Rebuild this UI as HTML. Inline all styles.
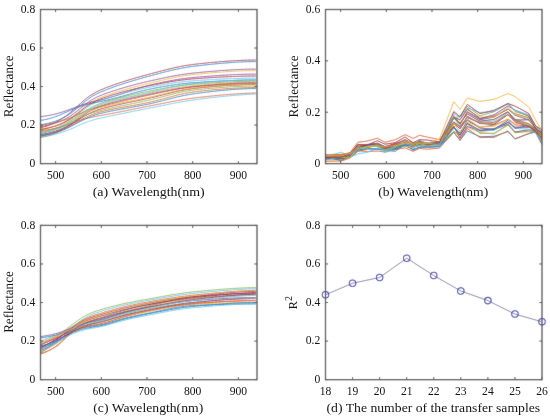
<!DOCTYPE html>
<html><head><meta charset="utf-8"><style>
html,body{margin:0;padding:0;background:#fff;}
svg{display:block;}
.l{fill:none;stroke-width:0.75;stroke-linejoin:round;}
.lb{stroke-width:0.85;}
.t{font-family:'Liberation Serif', serif;font-size:11.6px;fill:#151515;}
.xl{font-family:'Liberation Serif', serif;font-size:13px;fill:#151515;}
.yl{font-size:13.5px;text-rendering:geometricPrecision;}
</style></head><body>
<svg width="550" height="420" viewBox="0 0 550 420">
<defs><filter id="bl" x="0" y="0" width="100%" height="100%" filterUnits="userSpaceOnUse"><feConvolveMatrix order="3" kernelMatrix="0.0250 0.0500 0.0250 0.0500 0.7000 0.0500 0.0250 0.0500 0.0250" divisor="1" edgeMode="duplicate"/></filter></defs>
<rect width="550" height="420" fill="#fff"/>
<g filter="url(#bl)">
<rect width="550" height="420" fill="#fff"/>
<polyline class="l" points="40.5,127.7 41.9,127.4 43.2,127.0 44.6,126.6 46.0,126.2 47.4,125.8 48.7,125.3 50.1,124.8 51.5,124.2 52.8,123.7 54.2,123.0 55.6,122.4 57.0,121.7 58.3,120.9 59.7,120.1 61.1,119.3 62.4,118.4 63.8,117.5 65.2,116.6 66.6,115.5 67.9,114.5 69.3,113.4 70.7,112.3 72.0,111.1 73.4,109.9 74.8,108.7 76.1,107.4 77.5,106.2 78.9,104.9 80.3,103.6 81.6,102.4 83.0,101.2 84.4,100.0 85.7,98.9 87.1,97.8 88.5,96.8 89.9,95.8 91.2,94.9 92.6,94.1 94.0,93.3 95.3,92.5 96.7,91.8 98.1,91.1 99.5,90.5 100.8,89.9 102.2,89.3 103.6,88.7 104.9,88.1 106.3,87.6 107.7,87.1 109.1,86.6 110.4,86.1 111.8,85.6 113.2,85.1 114.5,84.6 115.9,84.1 117.3,83.7 118.7,83.2 120.0,82.7 121.4,82.3 122.8,81.9 124.1,81.4 125.5,81.0 126.9,80.6 128.3,80.1 129.6,79.7 131.0,79.3 132.4,78.9 133.7,78.5 135.1,78.1 136.5,77.7 137.8,77.3 139.2,76.9 140.6,76.5 142.0,76.2 143.3,75.8 144.7,75.4 146.1,75.0 147.4,74.7 148.8,74.3 150.2,73.9 151.6,73.5 152.9,73.2 154.3,72.8 155.7,72.5 157.0,72.1 158.4,71.7 159.8,71.4 161.2,71.0 162.5,70.7 163.9,70.3 165.3,69.9 166.6,69.6 168.0,69.3 169.4,68.9 170.8,68.6 172.1,68.3 173.5,68.0 174.9,67.6 176.2,67.3 177.6,67.1 179.0,66.8 180.4,66.5 181.7,66.2 183.1,66.0 184.5,65.7 185.8,65.5 187.2,65.3 188.6,65.1 190.0,64.9 191.3,64.7 192.7,64.5 194.1,64.3 195.4,64.2 196.8,64.0 198.2,63.8 199.6,63.7 200.9,63.5 202.3,63.4 203.7,63.3 205.0,63.1 206.4,63.0 207.8,62.8 209.1,62.7 210.5,62.6 211.9,62.4 213.3,62.3 214.6,62.2 216.0,62.1 217.4,62.0 218.7,61.8 220.1,61.7 221.5,61.6 222.9,61.5 224.2,61.4 225.6,61.3 227.0,61.2 228.3,61.1 229.7,61.0 231.1,60.9 232.5,60.8 233.8,60.8 235.2,60.7 236.6,60.6 237.9,60.5 239.3,60.5 240.7,60.4 242.1,60.3 243.4,60.3 244.8,60.2 246.2,60.2 247.5,60.2 248.9,60.1 250.3,60.1 251.7,60.1 253.0,60.0 254.4,60.0 255.8,60.0" stroke="#A2142F"/>
<polyline class="l" points="40.5,124.9 41.9,124.7 43.2,124.4 44.6,124.1 46.0,123.8 47.4,123.5 48.7,123.2 50.1,122.8 51.5,122.4 52.8,122.0 54.2,121.6 55.6,121.1 57.0,120.6 58.3,120.1 59.7,119.5 61.1,118.9 62.4,118.2 63.8,117.5 65.2,116.8 66.6,116.0 67.9,115.2 69.3,114.3 70.7,113.4 72.0,112.4 73.4,111.3 74.8,110.2 76.1,109.1 77.5,107.9 78.9,106.8 80.3,105.6 81.6,104.4 83.0,103.2 84.4,102.1 85.7,101.0 87.1,99.9 88.5,98.9 89.9,97.9 91.2,97.0 92.6,96.1 94.0,95.3 95.3,94.6 96.7,93.9 98.1,93.2 99.5,92.6 100.8,91.9 102.2,91.4 103.6,90.8 104.9,90.3 106.3,89.7 107.7,89.2 109.1,88.7 110.4,88.2 111.8,87.7 113.2,87.2 114.5,86.7 115.9,86.2 117.3,85.7 118.7,85.3 120.0,84.8 121.4,84.4 122.8,83.9 124.1,83.5 125.5,83.0 126.9,82.6 128.3,82.2 129.6,81.7 131.0,81.3 132.4,80.9 133.7,80.5 135.1,80.1 136.5,79.7 137.8,79.3 139.2,78.9 140.6,78.5 142.0,78.1 143.3,77.7 144.7,77.3 146.1,77.0 147.4,76.6 148.8,76.2 150.2,75.9 151.6,75.5 152.9,75.1 154.3,74.7 155.7,74.4 157.0,74.0 158.4,73.7 159.8,73.3 161.2,72.9 162.5,72.6 163.9,72.2 165.3,71.9 166.6,71.5 168.0,71.2 169.4,70.9 170.8,70.5 172.1,70.2 173.5,69.9 174.9,69.6 176.2,69.3 177.6,69.0 179.0,68.7 180.4,68.5 181.7,68.2 183.1,67.9 184.5,67.7 185.8,67.5 187.2,67.2 188.6,67.0 190.0,66.8 191.3,66.6 192.7,66.4 194.1,66.2 195.4,66.1 196.8,65.9 198.2,65.7 199.6,65.6 200.9,65.4 202.3,65.3 203.7,65.1 205.0,64.9 206.4,64.8 207.8,64.7 209.1,64.5 210.5,64.4 211.9,64.2 213.3,64.1 214.6,64.0 216.0,63.8 217.4,63.7 218.7,63.6 220.1,63.4 221.5,63.3 222.9,63.2 224.2,63.1 225.6,63.0 227.0,62.9 228.3,62.8 229.7,62.7 231.1,62.6 232.5,62.5 233.8,62.4 235.2,62.3 236.6,62.2 237.9,62.1 239.3,62.1 240.7,62.0 242.1,61.9 243.4,61.9 244.8,61.8 246.2,61.8 247.5,61.7 248.9,61.7 250.3,61.7 251.7,61.6 253.0,61.6 254.4,61.6 255.8,61.6" stroke="#0072BD"/>
<polyline class="l" points="40.5,126.7 41.9,126.4 43.2,126.2 44.6,125.9 46.0,125.6 47.4,125.3 48.7,125.0 50.1,124.7 51.5,124.3 52.8,123.9 54.2,123.5 55.6,123.1 57.0,122.6 58.3,122.1 59.7,121.6 61.1,121.0 62.4,120.4 63.8,119.8 65.2,119.1 66.6,118.3 67.9,117.5 69.3,116.7 70.7,115.8 72.0,114.9 73.4,113.9 74.8,112.8 76.1,111.8 77.5,110.7 78.9,109.5 80.3,108.4 81.6,107.3 83.0,106.2 84.4,105.1 85.7,104.0 87.1,103.0 88.5,102.0 89.9,101.1 91.2,100.2 92.6,99.4 94.0,98.6 95.3,97.9 96.7,97.2 98.1,96.6 99.5,96.0 100.8,95.4 102.2,94.9 103.6,94.3 104.9,93.8 106.3,93.3 107.7,92.8 109.1,92.4 110.4,91.9 111.8,91.4 113.2,91.0 114.5,90.5 115.9,90.1 117.3,89.7 118.7,89.2 120.0,88.8 121.4,88.4 122.8,88.0 124.1,87.6 125.5,87.2 126.9,86.8 128.3,86.4 129.6,86.0 131.0,85.7 132.4,85.3 133.7,84.9 135.1,84.6 136.5,84.2 137.8,83.9 139.2,83.5 140.6,83.2 142.0,82.8 143.3,82.5 144.7,82.2 146.1,81.9 147.4,81.5 148.8,81.2 150.2,80.9 151.6,80.6 152.9,80.3 154.3,80.0 155.7,79.7 157.0,79.4 158.4,79.1 159.8,78.8 161.2,78.5 162.5,78.2 163.9,77.9 165.3,77.6 166.6,77.3 168.0,77.0 169.4,76.8 170.8,76.5 172.1,76.2 173.5,76.0 174.9,75.7 176.2,75.5 177.6,75.3 179.0,75.0 180.4,74.8 181.7,74.6 183.1,74.4 184.5,74.2 185.8,74.0 187.2,73.8 188.6,73.6 190.0,73.5 191.3,73.3 192.7,73.1 194.1,73.0 195.4,72.8 196.8,72.7 198.2,72.6 199.6,72.4 200.9,72.3 202.3,72.2 203.7,72.0 205.0,71.9 206.4,71.8 207.8,71.7 209.1,71.5 210.5,71.4 211.9,71.3 213.3,71.2 214.6,71.1 216.0,71.0 217.4,70.9 218.7,70.8 220.1,70.6 221.5,70.5 222.9,70.4 224.2,70.3 225.6,70.3 227.0,70.2 228.3,70.1 229.7,70.0 231.1,69.9 232.5,69.8 233.8,69.8 235.2,69.7 236.6,69.6 237.9,69.5 239.3,69.5 240.7,69.4 242.1,69.4 243.4,69.3 244.8,69.3 246.2,69.2 247.5,69.2 248.9,69.2 250.3,69.1 251.7,69.1 253.0,69.1 254.4,69.1 255.8,69.1" stroke="#7E2F8E"/>
<polyline class="l" points="40.5,129.9 41.9,129.6 43.2,129.4 44.6,129.1 46.0,128.7 47.4,128.4 48.7,128.0 50.1,127.6 51.5,127.2 52.8,126.8 54.2,126.3 55.6,125.8 57.0,125.3 58.3,124.7 59.7,124.1 61.1,123.5 62.4,122.8 63.8,122.1 65.2,121.3 66.6,120.5 67.9,119.6 69.3,118.7 70.7,117.8 72.0,116.8 73.4,115.8 74.8,114.7 76.1,113.6 77.5,112.5 78.9,111.4 80.3,110.3 81.6,109.1 83.0,108.0 84.4,107.0 85.7,105.9 87.1,104.9 88.5,104.0 89.9,103.1 91.2,102.2 92.6,101.4 94.0,100.7 95.3,100.0 96.7,99.3 98.1,98.7 99.5,98.1 100.8,97.5 102.2,97.0 103.6,96.5 104.9,96.0 106.3,95.5 107.7,95.0 109.1,94.5 110.4,94.1 111.8,93.6 113.2,93.2 114.5,92.7 115.9,92.3 117.3,91.8 118.7,91.4 120.0,91.0 121.4,90.6 122.8,90.2 124.1,89.8 125.5,89.4 126.9,89.0 128.3,88.6 129.6,88.2 131.0,87.9 132.4,87.5 133.7,87.1 135.1,86.8 136.5,86.4 137.8,86.0 139.2,85.7 140.6,85.3 142.0,85.0 143.3,84.7 144.7,84.3 146.1,84.0 147.4,83.7 148.8,83.3 150.2,83.0 151.6,82.7 152.9,82.3 154.3,82.0 155.7,81.7 157.0,81.4 158.4,81.0 159.8,80.7 161.2,80.4 162.5,80.1 163.9,79.8 165.3,79.5 166.6,79.2 168.0,78.9 169.4,78.6 170.8,78.3 172.1,78.0 173.5,77.7 174.9,77.5 176.2,77.2 177.6,76.9 179.0,76.7 180.4,76.5 181.7,76.2 183.1,76.0 184.5,75.8 185.8,75.6 187.2,75.4 188.6,75.2 190.0,75.0 191.3,74.9 192.7,74.7 194.1,74.5 195.4,74.4 196.8,74.2 198.2,74.1 199.6,74.0 200.9,73.8 202.3,73.7 203.7,73.6 205.0,73.4 206.4,73.3 207.8,73.2 209.1,73.1 210.5,73.0 211.9,72.8 213.3,72.7 214.6,72.6 216.0,72.5 217.4,72.4 218.7,72.3 220.1,72.2 221.5,72.1 222.9,72.0 224.2,71.9 225.6,71.8 227.0,71.7 228.3,71.6 229.7,71.5 231.1,71.4 232.5,71.4 233.8,71.3 235.2,71.2 236.6,71.1 237.9,71.1 239.3,71.0 240.7,71.0 242.1,70.9 243.4,70.9 244.8,70.8 246.2,70.8 247.5,70.7 248.9,70.7 250.3,70.7 251.7,70.7 253.0,70.6 254.4,70.6 255.8,70.6" stroke="#EDB120"/>
<polyline class="l" points="40.5,116.7 41.9,116.5 43.2,116.3 44.6,116.1 46.0,115.9 47.4,115.7 48.7,115.4 50.1,115.2 51.5,114.9 52.8,114.6 54.2,114.3 55.6,114.0 57.0,113.6 58.3,113.2 59.7,112.8 61.1,112.4 62.4,112.0 63.8,111.6 65.2,111.1 66.6,110.6 67.9,110.1 69.3,109.6 70.7,109.1 72.0,108.6 73.4,108.1 74.8,107.6 76.1,107.0 77.5,106.5 78.9,106.0 80.3,105.5 81.6,105.0 83.0,104.6 84.4,104.1 85.7,103.7 87.1,103.3 88.5,102.9 89.9,102.5 91.2,102.1 92.6,101.8 94.0,101.5 95.3,101.2 96.7,100.8 98.1,100.5 99.5,100.2 100.8,99.9 102.2,99.6 103.6,99.3 104.9,98.9 106.3,98.6 107.7,98.2 109.1,97.8 110.4,97.4 111.8,97.0 113.2,96.6 114.5,96.2 115.9,95.7 117.3,95.3 118.7,94.8 120.0,94.4 121.4,93.9 122.8,93.5 124.1,93.0 125.5,92.5 126.9,92.1 128.3,91.6 129.6,91.1 131.0,90.7 132.4,90.2 133.7,89.8 135.1,89.3 136.5,88.9 137.8,88.4 139.2,88.0 140.6,87.6 142.0,87.2 143.3,86.8 144.7,86.4 146.1,86.1 147.4,85.7 148.8,85.4 150.2,85.0 151.6,84.7 152.9,84.4 154.3,84.1 155.7,83.8 157.0,83.4 158.4,83.2 159.8,82.9 161.2,82.6 162.5,82.3 163.9,82.0 165.3,81.7 166.6,81.5 168.0,81.2 169.4,80.9 170.8,80.7 172.1,80.4 173.5,80.2 174.9,80.0 176.2,79.7 177.6,79.5 179.0,79.3 180.4,79.1 181.7,78.9 183.1,78.7 184.5,78.5 185.8,78.3 187.2,78.2 188.6,78.0 190.0,77.9 191.3,77.7 192.7,77.6 194.1,77.4 195.4,77.3 196.8,77.2 198.2,77.1 199.6,76.9 200.9,76.8 202.3,76.7 203.7,76.6 205.0,76.5 206.4,76.4 207.8,76.3 209.1,76.2 210.5,76.1 211.9,76.0 213.3,75.9 214.6,75.8 216.0,75.7 217.4,75.6 218.7,75.5 220.1,75.4 221.5,75.3 222.9,75.2 224.2,75.1 225.6,75.1 227.0,75.0 228.3,74.9 229.7,74.8 231.1,74.8 232.5,74.7 233.8,74.6 235.2,74.6 236.6,74.5 237.9,74.5 239.3,74.4 240.7,74.4 242.1,74.3 243.4,74.3 244.8,74.2 246.2,74.2 247.5,74.2 248.9,74.2 250.3,74.1 251.7,74.1 253.0,74.1 254.4,74.1 255.8,74.1" stroke="#7E2F8E"/>
<polyline class="l" points="40.5,132.4 41.9,132.1 43.2,131.8 44.6,131.5 46.0,131.2 47.4,130.8 48.7,130.4 50.1,130.0 51.5,129.6 52.8,129.1 54.2,128.6 55.6,128.1 57.0,127.6 58.3,127.0 59.7,126.3 61.1,125.7 62.4,125.0 63.8,124.2 65.2,123.4 66.6,122.6 67.9,121.7 69.3,120.8 70.7,119.9 72.0,118.9 73.4,117.9 74.8,116.8 76.1,115.8 77.5,114.7 78.9,113.6 80.3,112.5 81.6,111.4 83.0,110.4 84.4,109.4 85.7,108.4 87.1,107.4 88.5,106.5 89.9,105.7 91.2,104.8 92.6,104.1 94.0,103.4 95.3,102.7 96.7,102.1 98.1,101.5 99.5,100.9 100.8,100.4 102.2,99.9 103.6,99.4 104.9,98.9 106.3,98.5 107.7,98.0 109.1,97.6 110.4,97.1 111.8,96.7 113.2,96.3 114.5,95.9 115.9,95.4 117.3,95.0 118.7,94.6 120.0,94.3 121.4,93.9 122.8,93.5 124.1,93.1 125.5,92.7 126.9,92.4 128.3,92.0 129.6,91.7 131.0,91.3 132.4,91.0 133.7,90.7 135.1,90.3 136.5,90.0 137.8,89.7 139.2,89.4 140.6,89.1 142.0,88.8 143.3,88.5 144.7,88.2 146.1,87.9 147.4,87.6 148.8,87.4 150.2,87.1 151.6,86.8 152.9,86.6 154.3,86.3 155.7,86.0 157.0,85.8 158.4,85.5 159.8,85.3 161.2,85.0 162.5,84.8 163.9,84.6 165.3,84.3 166.6,84.1 168.0,83.9 169.4,83.7 170.8,83.4 172.1,83.2 173.5,83.0 174.9,82.8 176.2,82.6 177.6,82.4 179.0,82.3 180.4,82.1 181.7,81.9 183.1,81.8 184.5,81.6 185.8,81.5 187.2,81.3 188.6,81.2 190.0,81.1 191.3,81.0 192.7,80.8 194.1,80.7 195.4,80.6 196.8,80.5 198.2,80.4 199.6,80.3 200.9,80.2 202.3,80.2 203.7,80.1 205.0,80.0 206.4,79.9 207.8,79.8 209.1,79.7 210.5,79.7 211.9,79.6 213.3,79.5 214.6,79.4 216.0,79.3 217.4,79.3 218.7,79.2 220.1,79.1 221.5,79.1 222.9,79.0 224.2,78.9 225.6,78.9 227.0,78.8 228.3,78.8 229.7,78.7 231.1,78.6 232.5,78.6 233.8,78.5 235.2,78.5 236.6,78.5 237.9,78.4 239.3,78.4 240.7,78.3 242.1,78.3 243.4,78.3 244.8,78.2 246.2,78.2 247.5,78.2 248.9,78.2 250.3,78.2 251.7,78.1 253.0,78.1 254.4,78.1 255.8,78.1" stroke="#4DBEEE"/>
<polyline class="l" points="40.5,120.5 41.9,120.2 43.2,120.0 44.6,119.7 46.0,119.4 47.4,119.1 48.7,118.8 50.1,118.4 51.5,118.0 52.8,117.6 54.2,117.1 55.6,116.6 57.0,116.1 58.3,115.6 59.7,115.1 61.1,114.5 62.4,113.9 63.8,113.3 65.2,112.7 66.6,112.1 67.9,111.4 69.3,110.8 70.7,110.2 72.0,109.6 73.4,109.0 74.8,108.5 76.1,107.9 77.5,107.4 78.9,106.9 80.3,106.4 81.6,106.0 83.0,105.5 84.4,105.1 85.7,104.8 87.1,104.4 88.5,104.1 89.9,103.7 91.2,103.4 92.6,103.1 94.0,102.8 95.3,102.6 96.7,102.3 98.1,102.0 99.5,101.8 100.8,101.5 102.2,101.2 103.6,100.9 104.9,100.6 106.3,100.3 107.7,100.0 109.1,99.7 110.4,99.4 111.8,99.0 113.2,98.7 114.5,98.3 115.9,98.0 117.3,97.6 118.7,97.2 120.0,96.8 121.4,96.4 122.8,96.1 124.1,95.7 125.5,95.3 126.9,94.9 128.3,94.5 129.6,94.1 131.0,93.7 132.4,93.4 133.7,93.0 135.1,92.6 136.5,92.3 137.8,91.9 139.2,91.6 140.6,91.2 142.0,90.9 143.3,90.6 144.7,90.2 146.1,89.9 147.4,89.6 148.8,89.3 150.2,89.1 151.6,88.8 152.9,88.5 154.3,88.2 155.7,88.0 157.0,87.7 158.4,87.5 159.8,87.2 161.2,87.0 162.5,86.7 163.9,86.5 165.3,86.3 166.6,86.0 168.0,85.8 169.4,85.6 170.8,85.4 172.1,85.2 173.5,85.0 174.9,84.8 176.2,84.6 177.6,84.4 179.0,84.2 180.4,84.0 181.7,83.9 183.1,83.7 184.5,83.5 185.8,83.4 187.2,83.3 188.6,83.1 190.0,83.0 191.3,82.9 192.7,82.8 194.1,82.7 195.4,82.6 196.8,82.5 198.2,82.4 199.6,82.3 200.9,82.2 202.3,82.1 203.7,82.0 205.0,81.9 206.4,81.8 207.8,81.7 209.1,81.7 210.5,81.6 211.9,81.5 213.3,81.4 214.6,81.3 216.0,81.3 217.4,81.2 218.7,81.1 220.1,81.1 221.5,81.0 222.9,80.9 224.2,80.9 225.6,80.8 227.0,80.7 228.3,80.7 229.7,80.6 231.1,80.6 232.5,80.5 233.8,80.5 235.2,80.4 236.6,80.4 237.9,80.3 239.3,80.3 240.7,80.3 242.1,80.2 243.4,80.2 244.8,80.2 246.2,80.1 247.5,80.1 248.9,80.1 250.3,80.1 251.7,80.1 253.0,80.0 254.4,80.0 255.8,80.0" stroke="#0072BD"/>
<polyline class="l" points="40.5,133.6 41.9,133.3 43.2,133.0 44.6,132.7 46.0,132.4 47.4,132.0 48.7,131.6 50.1,131.2 51.5,130.8 52.8,130.3 54.2,129.8 55.6,129.3 57.0,128.8 58.3,128.2 59.7,127.6 61.1,126.9 62.4,126.2 63.8,125.5 65.2,124.7 66.6,123.9 67.9,123.1 69.3,122.2 70.7,121.3 72.0,120.4 73.4,119.4 74.8,118.4 76.1,117.4 77.5,116.4 78.9,115.4 80.3,114.4 81.6,113.4 83.0,112.4 84.4,111.5 85.7,110.6 87.1,109.7 88.5,108.9 89.9,108.1 91.2,107.3 92.6,106.7 94.0,106.0 95.3,105.4 96.7,104.8 98.1,104.3 99.5,103.8 100.8,103.3 102.2,102.8 103.6,102.3 104.9,101.9 106.3,101.5 107.7,101.1 109.1,100.7 110.4,100.3 111.8,99.9 113.2,99.5 114.5,99.1 115.9,98.7 117.3,98.4 118.7,98.0 120.0,97.6 121.4,97.3 122.8,96.9 124.1,96.6 125.5,96.3 126.9,95.9 128.3,95.6 129.6,95.3 131.0,95.0 132.4,94.7 133.7,94.3 135.1,94.0 136.5,93.7 137.8,93.4 139.2,93.1 140.6,92.9 142.0,92.6 143.3,92.3 144.7,92.0 146.1,91.7 147.4,91.5 148.8,91.2 150.2,90.9 151.6,90.6 152.9,90.4 154.3,90.1 155.7,89.9 157.0,89.6 158.4,89.3 159.8,89.1 161.2,88.8 162.5,88.6 163.9,88.3 165.3,88.1 166.6,87.8 168.0,87.6 169.4,87.4 170.8,87.1 172.1,86.9 173.5,86.7 174.9,86.5 176.2,86.3 177.6,86.1 179.0,85.9 180.4,85.7 181.7,85.5 183.1,85.3 184.5,85.2 185.8,85.0 187.2,84.9 188.6,84.7 190.0,84.6 191.3,84.4 192.7,84.3 194.1,84.2 195.4,84.1 196.8,84.0 198.2,83.9 199.6,83.7 200.9,83.6 202.3,83.5 203.7,83.4 205.0,83.3 206.4,83.2 207.8,83.2 209.1,83.1 210.5,83.0 211.9,82.9 213.3,82.8 214.6,82.7 216.0,82.6 217.4,82.5 218.7,82.5 220.1,82.4 221.5,82.3 222.9,82.2 224.2,82.1 225.6,82.1 227.0,82.0 228.3,81.9 229.7,81.9 231.1,81.8 232.5,81.8 233.8,81.7 235.2,81.6 236.6,81.6 237.9,81.5 239.3,81.5 240.7,81.5 242.1,81.4 243.4,81.4 244.8,81.4 246.2,81.3 247.5,81.3 248.9,81.3 250.3,81.2 251.7,81.2 253.0,81.2 254.4,81.2 255.8,81.2" stroke="#77AC30"/>
<polyline class="l" points="40.5,134.9 41.9,134.7 43.2,134.4 44.6,134.1 46.0,133.8 47.4,133.5 48.7,133.1 50.1,132.7 51.5,132.3 52.8,131.9 54.2,131.4 55.6,130.9 57.0,130.4 58.3,129.9 59.7,129.3 61.1,128.7 62.4,128.0 63.8,127.3 65.2,126.6 66.6,125.8 67.9,125.0 69.3,124.2 70.7,123.3 72.0,122.4 73.4,121.4 74.8,120.5 76.1,119.5 77.5,118.5 78.9,117.5 80.3,116.4 81.6,115.4 83.0,114.5 84.4,113.5 85.7,112.6 87.1,111.7 88.5,110.9 89.9,110.1 91.2,109.3 92.6,108.6 94.0,108.0 95.3,107.3 96.7,106.8 98.1,106.2 99.5,105.7 100.8,105.2 102.2,104.7 103.6,104.3 104.9,103.9 106.3,103.4 107.7,103.0 109.1,102.6 110.4,102.2 111.8,101.9 113.2,101.5 114.5,101.1 115.9,100.8 117.3,100.4 118.7,100.0 120.0,99.7 121.4,99.4 122.8,99.0 124.1,98.7 125.5,98.4 126.9,98.0 128.3,97.7 129.6,97.4 131.0,97.1 132.4,96.8 133.7,96.5 135.1,96.2 136.5,95.9 137.8,95.6 139.2,95.3 140.6,95.0 142.0,94.7 143.3,94.4 144.7,94.1 146.1,93.9 147.4,93.6 148.8,93.3 150.2,93.0 151.6,92.7 152.9,92.4 154.3,92.2 155.7,91.9 157.0,91.6 158.4,91.3 159.8,91.0 161.2,90.8 162.5,90.5 163.9,90.2 165.3,89.9 166.6,89.7 168.0,89.4 169.4,89.1 170.8,88.9 172.1,88.6 173.5,88.4 174.9,88.1 176.2,87.9 177.6,87.7 179.0,87.5 180.4,87.3 181.7,87.0 183.1,86.8 184.5,86.7 185.8,86.5 187.2,86.3 188.6,86.1 190.0,86.0 191.3,85.8 192.7,85.7 194.1,85.5 195.4,85.4 196.8,85.3 198.2,85.1 199.6,85.0 200.9,84.9 202.3,84.8 203.7,84.7 205.0,84.5 206.4,84.4 207.8,84.3 209.1,84.2 210.5,84.1 211.9,84.0 213.3,83.9 214.6,83.8 216.0,83.7 217.4,83.6 218.7,83.5 220.1,83.4 221.5,83.3 222.9,83.2 224.2,83.1 225.6,83.0 227.0,83.0 228.3,82.9 229.7,82.8 231.1,82.7 232.5,82.6 233.8,82.6 235.2,82.5 236.6,82.5 237.9,82.4 239.3,82.3 240.7,82.3 242.1,82.2 243.4,82.2 244.8,82.2 246.2,82.1 247.5,82.1 248.9,82.1 250.3,82.0 251.7,82.0 253.0,82.0 254.4,82.0 255.8,82.0" stroke="#EDB120"/>
<polyline class="l" points="40.5,125.0 41.9,124.8 43.2,124.6 44.6,124.5 46.0,124.3 47.4,124.1 48.7,123.8 50.1,123.6 51.5,123.3 52.8,123.1 54.2,122.8 55.6,122.5 57.0,122.2 58.3,121.8 59.7,121.4 61.1,121.1 62.4,120.6 63.8,120.2 65.2,119.8 66.6,119.3 67.9,118.8 69.3,118.3 70.7,117.7 72.0,117.2 73.4,116.6 74.8,116.0 76.1,115.4 77.5,114.7 78.9,114.1 80.3,113.5 81.6,112.9 83.0,112.3 84.4,111.7 85.7,111.1 87.1,110.6 88.5,110.1 89.9,109.6 91.2,109.1 92.6,108.7 94.0,108.3 95.3,107.9 96.7,107.5 98.1,107.2 99.5,106.8 100.8,106.5 102.2,106.1 103.6,105.8 104.9,105.5 106.3,105.2 107.7,104.8 109.1,104.5 110.4,104.2 111.8,103.8 113.2,103.5 114.5,103.2 115.9,102.9 117.3,102.5 118.7,102.2 120.0,101.9 121.4,101.5 122.8,101.2 124.1,100.9 125.5,100.5 126.9,100.2 128.3,99.9 129.6,99.6 131.0,99.2 132.4,98.9 133.7,98.6 135.1,98.3 136.5,98.0 137.8,97.7 139.2,97.4 140.6,97.0 142.0,96.7 143.3,96.4 144.7,96.1 146.1,95.8 147.4,95.5 148.8,95.2 150.2,94.9 151.6,94.6 152.9,94.3 154.3,94.0 155.7,93.7 157.0,93.4 158.4,93.1 159.8,92.8 161.2,92.5 162.5,92.2 163.9,91.9 165.3,91.6 166.6,91.4 168.0,91.1 169.4,90.8 170.8,90.5 172.1,90.2 173.5,90.0 174.9,89.7 176.2,89.4 177.6,89.2 179.0,88.9 180.4,88.7 181.7,88.5 183.1,88.3 184.5,88.1 185.8,87.9 187.2,87.7 188.6,87.5 190.0,87.4 191.3,87.2 192.7,87.0 194.1,86.9 195.4,86.8 196.8,86.6 198.2,86.5 199.6,86.4 200.9,86.3 202.3,86.1 203.7,86.0 205.0,85.9 206.4,85.8 207.8,85.7 209.1,85.6 210.5,85.5 211.9,85.4 213.3,85.3 214.6,85.2 216.0,85.1 217.4,85.0 218.7,84.9 220.1,84.8 221.5,84.7 222.9,84.7 224.2,84.6 225.6,84.5 227.0,84.4 228.3,84.3 229.7,84.3 231.1,84.2 232.5,84.1 233.8,84.1 235.2,84.0 236.6,84.0 237.9,83.9 239.3,83.9 240.7,83.8 242.1,83.8 243.4,83.7 244.8,83.7 246.2,83.6 247.5,83.6 248.9,83.6 250.3,83.6 251.7,83.5 253.0,83.5 254.4,83.5 255.8,83.5" stroke="#D95319"/>
<polyline class="l" points="40.5,136.3 41.9,136.0 43.2,135.7 44.6,135.4 46.0,135.1 47.4,134.8 48.7,134.4 50.1,134.1 51.5,133.7 52.8,133.2 54.2,132.8 55.6,132.3 57.0,131.7 58.3,131.2 59.7,130.6 61.1,130.0 62.4,129.3 63.8,128.7 65.2,128.0 66.6,127.2 67.9,126.4 69.3,125.6 70.7,124.8 72.0,124.0 73.4,123.1 74.8,122.2 76.1,121.3 77.5,120.4 78.9,119.6 80.3,118.7 81.6,117.8 83.0,116.9 84.4,116.1 85.7,115.3 87.1,114.6 88.5,113.9 89.9,113.2 91.2,112.5 92.6,111.9 94.0,111.4 95.3,110.8 96.7,110.3 98.1,109.9 99.5,109.4 100.8,109.0 102.2,108.6 103.6,108.2 104.9,107.8 106.3,107.5 107.7,107.1 109.1,106.8 110.4,106.5 111.8,106.1 113.2,105.8 114.5,105.5 115.9,105.2 117.3,104.9 118.7,104.6 120.0,104.3 121.4,104.0 122.8,103.7 124.1,103.4 125.5,103.1 126.9,102.8 128.3,102.5 129.6,102.3 131.0,102.0 132.4,101.7 133.7,101.4 135.1,101.1 136.5,100.9 137.8,100.6 139.2,100.3 140.6,100.0 142.0,99.7 143.3,99.4 144.7,99.1 146.1,98.8 147.4,98.5 148.8,98.2 150.2,97.9 151.6,97.6 152.9,97.3 154.3,97.0 155.7,96.6 157.0,96.3 158.4,95.9 159.8,95.6 161.2,95.3 162.5,94.9 163.9,94.6 165.3,94.2 166.6,93.9 168.0,93.5 169.4,93.2 170.8,92.8 172.1,92.5 173.5,92.2 174.9,91.9 176.2,91.5 177.6,91.2 179.0,90.9 180.4,90.7 181.7,90.4 183.1,90.1 184.5,89.9 185.8,89.6 187.2,89.4 188.6,89.2 190.0,89.0 191.3,88.8 192.7,88.6 194.1,88.4 195.4,88.3 196.8,88.1 198.2,88.0 199.6,87.8 200.9,87.7 202.3,87.6 203.7,87.4 205.0,87.3 206.4,87.2 207.8,87.0 209.1,86.9 210.5,86.8 211.9,86.7 213.3,86.6 214.6,86.4 216.0,86.3 217.4,86.2 218.7,86.1 220.1,86.0 221.5,85.9 222.9,85.8 224.2,85.7 225.6,85.6 227.0,85.5 228.3,85.4 229.7,85.4 231.1,85.3 232.5,85.2 233.8,85.1 235.2,85.1 236.6,85.0 237.9,84.9 239.3,84.9 240.7,84.8 242.1,84.8 243.4,84.7 244.8,84.7 246.2,84.6 247.5,84.6 248.9,84.6 250.3,84.5 251.7,84.5 253.0,84.5 254.4,84.5 255.8,84.5" stroke="#A2142F"/>
<polyline class="l" points="40.5,131.7 41.9,131.5 43.2,131.3 44.6,131.0 46.0,130.8 47.4,130.5 48.7,130.3 50.1,130.0 51.5,129.6 52.8,129.3 54.2,128.9 55.6,128.6 57.0,128.1 58.3,127.7 59.7,127.3 61.1,126.8 62.4,126.3 63.8,125.7 65.2,125.2 66.6,124.6 67.9,124.0 69.3,123.4 70.7,122.7 72.0,122.1 73.4,121.4 74.8,120.7 76.1,120.0 77.5,119.3 78.9,118.7 80.3,118.0 81.6,117.3 83.0,116.6 84.4,116.0 85.7,115.4 87.1,114.8 88.5,114.2 89.9,113.7 91.2,113.2 92.6,112.8 94.0,112.3 95.3,111.9 96.7,111.5 98.1,111.1 99.5,110.8 100.8,110.4 102.2,110.1 103.6,109.8 104.9,109.4 106.3,109.1 107.7,108.8 109.1,108.5 110.4,108.2 111.8,107.9 113.2,107.6 114.5,107.3 115.9,107.0 117.3,106.7 118.7,106.5 120.0,106.2 121.4,105.9 122.8,105.6 124.1,105.3 125.5,105.0 126.9,104.8 128.3,104.5 129.6,104.2 131.0,103.9 132.4,103.7 133.7,103.4 135.1,103.1 136.5,102.8 137.8,102.5 139.2,102.2 140.6,102.0 142.0,101.7 143.3,101.4 144.7,101.1 146.1,100.8 147.4,100.5 148.8,100.1 150.2,99.8 151.6,99.5 152.9,99.2 154.3,98.8 155.7,98.5 157.0,98.2 158.4,97.8 159.8,97.5 161.2,97.1 162.5,96.7 163.9,96.4 165.3,96.0 166.6,95.7 168.0,95.3 169.4,94.9 170.8,94.6 172.1,94.2 173.5,93.9 174.9,93.5 176.2,93.2 177.6,92.9 179.0,92.6 180.4,92.3 181.7,92.0 183.1,91.7 184.5,91.5 185.8,91.2 187.2,91.0 188.6,90.8 190.0,90.6 191.3,90.4 192.7,90.2 194.1,90.0 195.4,89.8 196.8,89.7 198.2,89.5 199.6,89.4 200.9,89.2 202.3,89.1 203.7,89.0 205.0,88.8 206.4,88.7 207.8,88.6 209.1,88.4 210.5,88.3 211.9,88.2 213.3,88.1 214.6,88.0 216.0,87.9 217.4,87.8 218.7,87.7 220.1,87.5 221.5,87.4 222.9,87.3 224.2,87.3 225.6,87.2 227.0,87.1 228.3,87.0 229.7,86.9 231.1,86.8 232.5,86.7 233.8,86.7 235.2,86.6 236.6,86.5 237.9,86.5 239.3,86.4 240.7,86.4 242.1,86.3 243.4,86.3 244.8,86.2 246.2,86.2 247.5,86.1 248.9,86.1 250.3,86.1 251.7,86.1 253.0,86.0 254.4,86.0 255.8,86.0" stroke="#77AC30"/>
<polyline class="l" points="40.5,137.4 41.9,137.2 43.2,136.9 44.6,136.6 46.0,136.3 47.4,135.9 48.7,135.6 50.1,135.2 51.5,134.8 52.8,134.3 54.2,133.8 55.6,133.3 57.0,132.8 58.3,132.2 59.7,131.6 61.1,131.0 62.4,130.4 63.8,129.7 65.2,129.0 66.6,128.2 67.9,127.5 69.3,126.7 70.7,125.9 72.0,125.1 73.4,124.3 74.8,123.5 76.1,122.7 77.5,121.9 78.9,121.1 80.3,120.3 81.6,119.5 83.0,118.8 84.4,118.1 85.7,117.4 87.1,116.7 88.5,116.1 89.9,115.5 91.2,114.9 92.6,114.4 94.0,113.9 95.3,113.5 96.7,113.0 98.1,112.6 99.5,112.2 100.8,111.9 102.2,111.5 103.6,111.2 104.9,110.9 106.3,110.6 107.7,110.2 109.1,110.0 110.4,109.7 111.8,109.4 113.2,109.1 114.5,108.8 115.9,108.6 117.3,108.3 118.7,108.1 120.0,107.8 121.4,107.6 122.8,107.3 124.1,107.1 125.5,106.8 126.9,106.6 128.3,106.3 129.6,106.1 131.0,105.8 132.4,105.6 133.7,105.4 135.1,105.1 136.5,104.9 137.8,104.6 139.2,104.4 140.6,104.1 142.0,103.8 143.3,103.6 144.7,103.3 146.1,103.0 147.4,102.7 148.8,102.4 150.2,102.1 151.6,101.8 152.9,101.5 154.3,101.1 155.7,100.8 157.0,100.5 158.4,100.1 159.8,99.8 161.2,99.4 162.5,99.0 163.9,98.6 165.3,98.3 166.6,97.9 168.0,97.5 169.4,97.2 170.8,96.8 172.1,96.4 173.5,96.1 174.9,95.7 176.2,95.4 177.6,95.0 179.0,94.7 180.4,94.4 181.7,94.1 183.1,93.8 184.5,93.5 185.8,93.2 187.2,93.0 188.6,92.7 190.0,92.5 191.3,92.3 192.7,92.1 194.1,91.9 195.4,91.7 196.8,91.6 198.2,91.4 199.6,91.2 200.9,91.1 202.3,90.9 203.7,90.8 205.0,90.6 206.4,90.5 207.8,90.4 209.1,90.2 210.5,90.1 211.9,90.0 213.3,89.8 214.6,89.7 216.0,89.6 217.4,89.5 218.7,89.4 220.1,89.3 221.5,89.1 222.9,89.0 224.2,88.9 225.6,88.8 227.0,88.7 228.3,88.6 229.7,88.5 231.1,88.5 232.5,88.4 233.8,88.3 235.2,88.2 236.6,88.1 237.9,88.1 239.3,88.0 240.7,87.9 242.1,87.9 243.4,87.8 244.8,87.8 246.2,87.7 247.5,87.7 248.9,87.7 250.3,87.6 251.7,87.6 253.0,87.6 254.4,87.6 255.8,87.6" stroke="#D95319"/>
<polyline class="l" points="40.5,130.7 41.9,130.6 43.2,130.4 44.6,130.2 46.0,130.0 47.4,129.8 48.7,129.6 50.1,129.4 51.5,129.1 52.8,128.8 54.2,128.5 55.6,128.2 57.0,127.9 58.3,127.5 59.7,127.2 61.1,126.8 62.4,126.4 63.8,126.0 65.2,125.6 66.6,125.1 67.9,124.7 69.3,124.2 70.7,123.7 72.0,123.2 73.4,122.8 74.8,122.3 76.1,121.8 77.5,121.3 78.9,120.9 80.3,120.4 81.6,120.0 83.0,119.6 84.4,119.1 85.7,118.7 87.1,118.4 88.5,118.0 89.9,117.7 91.2,117.4 92.6,117.1 94.0,116.8 95.3,116.5 96.7,116.2 98.1,116.0 99.5,115.7 100.8,115.5 102.2,115.2 103.6,115.0 104.9,114.7 106.3,114.5 107.7,114.2 109.1,114.0 110.4,113.7 111.8,113.5 113.2,113.2 114.5,112.9 115.9,112.7 117.3,112.4 118.7,112.1 120.0,111.9 121.4,111.6 122.8,111.3 124.1,111.1 125.5,110.8 126.9,110.5 128.3,110.2 129.6,110.0 131.0,109.7 132.4,109.4 133.7,109.1 135.1,108.9 136.5,108.6 137.8,108.3 139.2,108.1 140.6,107.8 142.0,107.5 143.3,107.2 144.7,107.0 146.1,106.7 147.4,106.4 148.8,106.2 150.2,105.9 151.6,105.6 152.9,105.4 154.3,105.1 155.7,104.8 157.0,104.5 158.4,104.3 159.8,104.0 161.2,103.7 162.5,103.4 163.9,103.2 165.3,102.9 166.6,102.6 168.0,102.3 169.4,102.1 170.8,101.8 172.1,101.5 173.5,101.3 174.9,101.0 176.2,100.8 177.6,100.5 179.0,100.3 180.4,100.0 181.7,99.8 183.1,99.6 184.5,99.4 185.8,99.1 187.2,98.9 188.6,98.7 190.0,98.6 191.3,98.4 192.7,98.2 194.1,98.0 195.4,97.8 196.8,97.7 198.2,97.5 199.6,97.3 200.9,97.2 202.3,97.0 203.7,96.9 205.0,96.7 206.4,96.6 207.8,96.4 209.1,96.3 210.5,96.1 211.9,96.0 213.3,95.9 214.6,95.7 216.0,95.6 217.4,95.5 218.7,95.3 220.1,95.2 221.5,95.1 222.9,94.9 224.2,94.8 225.6,94.7 227.0,94.6 228.3,94.5 229.7,94.4 231.1,94.3 232.5,94.2 233.8,94.1 235.2,94.0 236.6,93.9 237.9,93.8 239.3,93.7 240.7,93.6 242.1,93.5 243.4,93.5 244.8,93.4 246.2,93.3 247.5,93.3 248.9,93.2 250.3,93.2 251.7,93.1 253.0,93.1 254.4,93.0 255.8,93.0" stroke="#D95319"/>
<polyline class="l" points="40.5,137.1 41.9,136.9 43.2,136.7 44.6,136.5 46.0,136.3 47.4,136.1 48.7,135.8 50.1,135.5 51.5,135.3 52.8,134.9 54.2,134.6 55.6,134.3 57.0,133.9 58.3,133.5 59.7,133.1 61.1,132.7 62.4,132.2 63.8,131.7 65.2,131.2 66.6,130.7 67.9,130.2 69.3,129.6 70.7,129.1 72.0,128.5 73.4,127.9 74.8,127.3 76.1,126.6 77.5,126.0 78.9,125.4 80.3,124.8 81.6,124.2 83.0,123.6 84.4,123.1 85.7,122.5 87.1,122.0 88.5,121.5 89.9,121.0 91.2,120.6 92.6,120.2 94.0,119.8 95.3,119.4 96.7,119.1 98.1,118.7 99.5,118.4 100.8,118.1 102.2,117.8 103.6,117.5 104.9,117.2 106.3,116.9 107.7,116.6 109.1,116.3 110.4,116.0 111.8,115.7 113.2,115.4 114.5,115.1 115.9,114.9 117.3,114.6 118.7,114.3 120.0,114.0 121.4,113.7 122.8,113.5 124.1,113.2 125.5,112.9 126.9,112.6 128.3,112.4 129.6,112.1 131.0,111.8 132.4,111.5 133.7,111.3 135.1,111.0 136.5,110.7 137.8,110.5 139.2,110.2 140.6,109.9 142.0,109.6 143.3,109.4 144.7,109.1 146.1,108.8 147.4,108.6 148.8,108.3 150.2,108.0 151.6,107.7 152.9,107.5 154.3,107.2 155.7,106.9 157.0,106.6 158.4,106.4 159.8,106.1 161.2,105.8 162.5,105.5 163.9,105.2 165.3,105.0 166.6,104.7 168.0,104.4 169.4,104.1 170.8,103.9 172.1,103.6 173.5,103.3 174.9,103.1 176.2,102.8 177.6,102.5 179.0,102.3 180.4,102.1 181.7,101.8 183.1,101.6 184.5,101.4 185.8,101.1 187.2,100.9 188.6,100.7 190.0,100.5 191.3,100.3 192.7,100.1 194.1,99.9 195.4,99.7 196.8,99.5 198.2,99.4 199.6,99.2 200.9,99.0 202.3,98.8 203.7,98.7 205.0,98.5 206.4,98.3 207.8,98.2 209.1,98.0 210.5,97.8 211.9,97.7 213.3,97.5 214.6,97.4 216.0,97.2 217.4,97.1 218.7,96.9 220.1,96.8 221.5,96.6 222.9,96.5 224.2,96.3 225.6,96.2 227.0,96.1 228.3,95.9 229.7,95.8 231.1,95.7 232.5,95.5 233.8,95.4 235.2,95.3 236.6,95.2 237.9,95.1 239.3,95.0 240.7,94.9 242.1,94.8 243.4,94.7 244.8,94.6 246.2,94.5 247.5,94.4 248.9,94.3 250.3,94.2 251.7,94.2 253.0,94.1 254.4,94.0 255.8,94.0" stroke="#4DBEEE"/>
<polyline class="l" points="40.5,134.6 41.9,134.3 43.2,134.1 44.6,133.9 46.0,133.6 47.4,133.3 48.7,133.0 50.1,132.7 51.5,132.3 52.8,132.0 54.2,131.6 55.6,131.2 57.0,130.7 58.3,130.2 59.7,129.7 61.1,129.2 62.4,128.6 63.8,128.0 65.2,127.4 66.6,126.7 67.9,126.0 69.3,125.2 70.7,124.4 72.0,123.5 73.4,122.6 74.8,121.7 76.1,120.7 77.5,119.7 78.9,118.7 80.3,117.7 81.6,116.7 83.0,115.7 84.4,114.7 85.7,113.8 87.1,112.9 88.5,112.0 89.9,111.2 91.2,110.4 92.6,109.7 94.0,109.0 95.3,108.4 96.7,107.8 98.1,107.2 99.5,106.7 100.8,106.2 102.2,105.7 103.6,105.3 104.9,104.8 106.3,104.4 107.7,104.0 109.1,103.6 110.4,103.2 111.8,102.9 113.2,102.5 114.5,102.1 115.9,101.8 117.3,101.4 118.7,101.1 120.0,100.7 121.4,100.4 122.8,100.1 124.1,99.7 125.5,99.4 126.9,99.1 128.3,98.8 129.6,98.5 131.0,98.2 132.4,97.9 133.7,97.6 135.1,97.3 136.5,97.0 137.8,96.7 139.2,96.4 140.6,96.1 142.0,95.9 143.3,95.6 144.7,95.3 146.1,95.0 147.4,94.7 148.8,94.4 150.2,94.1 151.6,93.9 152.9,93.6 154.3,93.3 155.7,93.0 157.0,92.7 158.4,92.4 159.8,92.2 161.2,91.9 162.5,91.6 163.9,91.3 165.3,91.0 166.6,90.8 168.0,90.5 169.4,90.2 170.8,90.0 172.1,89.7 173.5,89.4 174.9,89.2 176.2,89.0 177.6,88.7 179.0,88.5 180.4,88.3 181.7,88.1 183.1,87.9 184.5,87.7 185.8,87.5 187.2,87.3 188.6,87.1 190.0,86.9 191.3,86.8 192.7,86.6 194.1,86.5 195.4,86.3 196.8,86.2 198.2,86.1 199.6,85.9 200.9,85.8 202.3,85.7 203.7,85.6 205.0,85.4 206.4,85.3 207.8,85.2 209.1,85.1 210.5,85.0 211.9,84.9 213.3,84.8 214.6,84.7 216.0,84.5 217.4,84.4 218.7,84.3 220.1,84.2 221.5,84.1 222.9,84.0 224.2,84.0 225.6,83.9 227.0,83.8 228.3,83.7 229.7,83.6 231.1,83.5 232.5,83.5 233.8,83.4 235.2,83.3 236.6,83.3 237.9,83.2 239.3,83.1 240.7,83.1 242.1,83.0 243.4,83.0 244.8,82.9 246.2,82.9 247.5,82.9 248.9,82.8 250.3,82.8 251.7,82.8 253.0,82.8 254.4,82.8 255.8,82.7" stroke="#7E2F8E"/>
<polyline class="l" points="40.5,133.0 41.9,132.8 43.2,132.5 44.6,132.3 46.0,132.0 47.4,131.7 48.7,131.4 50.1,131.1 51.5,130.7 52.8,130.3 54.2,129.9 55.6,129.5 57.0,129.0 58.3,128.5 59.7,128.0 61.1,127.5 62.4,126.9 63.8,126.2 65.2,125.6 66.6,124.9 67.9,124.1 69.3,123.3 70.7,122.5 72.0,121.6 73.4,120.7 74.8,119.8 76.1,118.8 77.5,117.8 78.9,116.8 80.3,115.8 81.6,114.7 83.0,113.7 84.4,112.8 85.7,111.8 87.1,110.9 88.5,110.1 89.9,109.2 91.2,108.5 92.6,107.8 94.0,107.1 95.3,106.5 96.7,105.9 98.1,105.3 99.5,104.8 100.8,104.3 102.2,103.8 103.6,103.4 104.9,102.9 106.3,102.5 107.7,102.1 109.1,101.7 110.4,101.3 111.8,101.0 113.2,100.6 114.5,100.2 115.9,99.9 117.3,99.5 118.7,99.2 120.0,98.9 121.4,98.5 122.8,98.2 124.1,97.9 125.5,97.6 126.9,97.3 128.3,97.0 129.6,96.7 131.0,96.4 132.4,96.1 133.7,95.8 135.1,95.5 136.5,95.2 137.8,94.9 139.2,94.6 140.6,94.3 142.0,94.0 143.3,93.7 144.7,93.4 146.1,93.1 147.4,92.8 148.8,92.5 150.2,92.2 151.6,91.9 152.9,91.6 154.3,91.3 155.7,91.0 157.0,90.6 158.4,90.3 159.8,90.0 161.2,89.7 162.5,89.4 163.9,89.1 165.3,88.8 166.6,88.4 168.0,88.1 169.4,87.8 170.8,87.5 172.1,87.2 173.5,86.9 174.9,86.7 176.2,86.4 177.6,86.1 179.0,85.9 180.4,85.6 181.7,85.4 183.1,85.1 184.5,84.9 185.8,84.7 187.2,84.5 188.6,84.3 190.0,84.1 191.3,83.9 192.7,83.8 194.1,83.6 195.4,83.5 196.8,83.3 198.2,83.2 199.6,83.0 200.9,82.9 202.3,82.8 203.7,82.6 205.0,82.5 206.4,82.4 207.8,82.2 209.1,82.1 210.5,82.0 211.9,81.9 213.3,81.8 214.6,81.7 216.0,81.5 217.4,81.4 218.7,81.3 220.1,81.2 221.5,81.1 222.9,81.0 224.2,80.9 225.6,80.8 227.0,80.7 228.3,80.7 229.7,80.6 231.1,80.5 232.5,80.4 233.8,80.3 235.2,80.3 236.6,80.2 237.9,80.1 239.3,80.1 240.7,80.0 242.1,80.0 243.4,79.9 244.8,79.9 246.2,79.8 247.5,79.8 248.9,79.8 250.3,79.7 251.7,79.7 253.0,79.7 254.4,79.7 255.8,79.7" stroke="#4DBEEE"/>
<polyline class="l" points="40.5,128.8 41.9,128.6 43.2,128.4 44.6,128.2 46.0,128.0 47.4,127.8 48.7,127.5 50.1,127.3 51.5,127.0 52.8,126.7 54.2,126.4 55.6,126.0 57.0,125.6 58.3,125.3 59.7,124.8 61.1,124.4 62.4,124.0 63.8,123.5 65.2,122.9 66.6,122.4 67.9,121.8 69.3,121.2 70.7,120.6 72.0,120.0 73.4,119.3 74.8,118.6 76.1,117.9 77.5,117.2 78.9,116.4 80.3,115.7 81.6,115.0 83.0,114.3 84.4,113.6 85.7,112.9 87.1,112.3 88.5,111.7 89.9,111.1 91.2,110.6 92.6,110.1 94.0,109.6 95.3,109.2 96.7,108.7 98.1,108.3 99.5,107.9 100.8,107.6 102.2,107.2 103.6,106.9 104.9,106.5 106.3,106.2 107.7,105.9 109.1,105.6 110.4,105.3 111.8,105.0 113.2,104.6 114.5,104.3 115.9,104.0 117.3,103.8 118.7,103.5 120.0,103.2 121.4,102.9 122.8,102.6 124.1,102.3 125.5,102.0 126.9,101.8 128.3,101.5 129.6,101.2 131.0,100.9 132.4,100.7 133.7,100.4 135.1,100.1 136.5,99.8 137.8,99.6 139.2,99.3 140.6,99.0 142.0,98.7 143.3,98.4 144.7,98.1 146.1,97.9 147.4,97.6 148.8,97.3 150.2,97.0 151.6,96.7 152.9,96.4 154.3,96.1 155.7,95.7 157.0,95.4 158.4,95.1 159.8,94.8 161.2,94.5 162.5,94.1 163.9,93.8 165.3,93.5 166.6,93.1 168.0,92.8 169.4,92.5 170.8,92.2 172.1,91.9 173.5,91.6 174.9,91.3 176.2,91.0 177.6,90.7 179.0,90.4 180.4,90.1 181.7,89.9 183.1,89.6 184.5,89.4 185.8,89.2 187.2,89.0 188.6,88.8 190.0,88.6 191.3,88.4 192.7,88.2 194.1,88.1 195.4,87.9 196.8,87.8 198.2,87.6 199.6,87.5 200.9,87.3 202.3,87.2 203.7,87.1 205.0,87.0 206.4,86.8 207.8,86.7 209.1,86.6 210.5,86.5 211.9,86.4 213.3,86.3 214.6,86.2 216.0,86.1 217.4,85.9 218.7,85.8 220.1,85.7 221.5,85.7 222.9,85.6 224.2,85.5 225.6,85.4 227.0,85.3 228.3,85.2 229.7,85.1 231.1,85.1 232.5,85.0 233.8,84.9 235.2,84.8 236.6,84.8 237.9,84.7 239.3,84.7 240.7,84.6 242.1,84.6 243.4,84.5 244.8,84.5 246.2,84.4 247.5,84.4 248.9,84.4 250.3,84.4 251.7,84.3 253.0,84.3 254.4,84.3 255.8,84.3" stroke="#EDB120"/>
<polyline class="l" points="40.5,135.5 41.9,135.3 43.2,135.1 44.6,134.9 46.0,134.6 47.4,134.4 48.7,134.1 50.1,133.8 51.5,133.5 52.8,133.2 54.2,132.8 55.6,132.4 57.0,132.0 58.3,131.6 59.7,131.1 61.1,130.6 62.4,130.1 63.8,129.6 65.2,129.0 66.6,128.4 67.9,127.8 69.3,127.2 70.7,126.5 72.0,125.8 73.4,125.1 74.8,124.4 76.1,123.7 77.5,123.0 78.9,122.2 80.3,121.5 81.6,120.8 83.0,120.0 84.4,119.4 85.7,118.7 87.1,118.1 88.5,117.5 89.9,116.9 91.2,116.4 92.6,115.9 94.0,115.4 95.3,114.9 96.7,114.5 98.1,114.1 99.5,113.7 100.8,113.4 102.2,113.0 103.6,112.7 104.9,112.4 106.3,112.1 107.7,111.8 109.1,111.5 110.4,111.2 111.8,110.9 113.2,110.7 114.5,110.4 115.9,110.1 117.3,109.9 118.7,109.6 120.0,109.4 121.4,109.1 122.8,108.9 124.1,108.6 125.5,108.4 126.9,108.1 128.3,107.9 129.6,107.6 131.0,107.4 132.4,107.1 133.7,106.9 135.1,106.6 136.5,106.4 137.8,106.1 139.2,105.9 140.6,105.6 142.0,105.4 143.3,105.1 144.7,104.8 146.1,104.5 147.4,104.3 148.8,104.0 150.2,103.7 151.6,103.4 152.9,103.1 154.3,102.7 155.7,102.4 157.0,102.1 158.4,101.8 159.8,101.4 161.2,101.1 162.5,100.7 163.9,100.4 165.3,100.0 166.6,99.7 168.0,99.3 169.4,99.0 170.8,98.6 172.1,98.3 173.5,97.9 174.9,97.6 176.2,97.2 177.6,96.9 179.0,96.6 180.4,96.3 181.7,96.0 183.1,95.7 184.5,95.4 185.8,95.2 187.2,94.9 188.6,94.7 190.0,94.4 191.3,94.2 192.7,94.0 194.1,93.8 195.4,93.6 196.8,93.4 198.2,93.2 199.6,93.0 200.9,92.9 202.3,92.7 203.7,92.5 205.0,92.3 206.4,92.2 207.8,92.0 209.1,91.9 210.5,91.7 211.9,91.5 213.3,91.4 214.6,91.2 216.0,91.1 217.4,90.9 218.7,90.8 220.1,90.7 221.5,90.5 222.9,90.4 224.2,90.3 225.6,90.1 227.0,90.0 228.3,89.9 229.7,89.8 231.1,89.7 232.5,89.6 233.8,89.5 235.2,89.4 236.6,89.3 237.9,89.2 239.3,89.1 240.7,89.0 242.1,89.0 243.4,88.9 244.8,88.8 246.2,88.8 247.5,88.7 248.9,88.7 250.3,88.6 251.7,88.6 253.0,88.6 254.4,88.6 255.8,88.5" stroke="#0072BD"/>
<polyline class="l" points="40.5,129.5 41.9,129.3 43.2,129.1 44.6,128.8 46.0,128.5 47.4,128.2 48.7,127.9 50.1,127.5 51.5,127.2 52.8,126.8 54.2,126.3 55.6,125.9 57.0,125.4 58.3,124.9 59.7,124.4 61.1,123.8 62.4,123.2 63.8,122.5 65.2,121.8 66.6,121.1 67.9,120.3 69.3,119.5 70.7,118.6 72.0,117.7 73.4,116.7 74.8,115.7 76.1,114.6 77.5,113.6 78.9,112.5 80.3,111.4 81.6,110.3 83.0,109.2 84.4,108.1 85.7,107.1 87.1,106.1 88.5,105.2 89.9,104.3 91.2,103.5 92.6,102.7 94.0,102.0 95.3,101.3 96.7,100.6 98.1,100.0 99.5,99.4 100.8,98.9 102.2,98.4 103.6,97.9 104.9,97.4 106.3,96.9 107.7,96.5 109.1,96.0 110.4,95.6 111.8,95.1 113.2,94.7 114.5,94.3 115.9,93.9 117.3,93.5 118.7,93.1 120.0,92.7 121.4,92.3 122.8,92.0 124.1,91.6 125.5,91.2 126.9,90.9 128.3,90.5 129.6,90.2 131.0,89.8 132.4,89.5 133.7,89.1 135.1,88.8 136.5,88.5 137.8,88.2 139.2,87.9 140.6,87.6 142.0,87.3 143.3,87.0 144.7,86.7 146.1,86.4 147.4,86.1 148.8,85.8 150.2,85.5 151.6,85.3 152.9,85.0 154.3,84.7 155.7,84.4 157.0,84.2 158.4,83.9 159.8,83.7 161.2,83.4 162.5,83.1 163.9,82.9 165.3,82.6 166.6,82.4 168.0,82.2 169.4,81.9 170.8,81.7 172.1,81.5 173.5,81.3 174.9,81.0 176.2,80.8 177.6,80.6 179.0,80.4 180.4,80.3 181.7,80.1 183.1,79.9 184.5,79.8 185.8,79.6 187.2,79.4 188.6,79.3 190.0,79.2 191.3,79.0 192.7,78.9 194.1,78.8 195.4,78.7 196.8,78.6 198.2,78.5 199.6,78.4 200.9,78.3 202.3,78.2 203.7,78.1 205.0,78.0 206.4,77.9 207.8,77.8 209.1,77.7 210.5,77.6 211.9,77.6 213.3,77.5 214.6,77.4 216.0,77.3 217.4,77.2 218.7,77.2 220.1,77.1 221.5,77.0 222.9,76.9 224.2,76.9 225.6,76.8 227.0,76.7 228.3,76.7 229.7,76.6 231.1,76.6 232.5,76.5 233.8,76.5 235.2,76.4 236.6,76.4 237.9,76.3 239.3,76.3 240.7,76.2 242.1,76.2 243.4,76.2 244.8,76.1 246.2,76.1 247.5,76.1 248.9,76.1 250.3,76.0 251.7,76.0 253.0,76.0 254.4,76.0 255.8,76.0" stroke="#A2142F"/>
<rect x="40.5" y="9.5" width="216.50" height="154.10" fill="none" stroke="#4a4a4a" stroke-width="1.3"/>
<line x1="55.58" y1="163.6" x2="55.58" y2="161.0" stroke="#4a4a4a" stroke-width="1.0"/>
<line x1="55.58" y1="9.5" x2="55.58" y2="12.1" stroke="#4a4a4a" stroke-width="1.0"/>
<line x1="101.29" y1="163.6" x2="101.29" y2="161.0" stroke="#4a4a4a" stroke-width="1.0"/>
<line x1="101.29" y1="9.5" x2="101.29" y2="12.1" stroke="#4a4a4a" stroke-width="1.0"/>
<line x1="146.99" y1="163.6" x2="146.99" y2="161.0" stroke="#4a4a4a" stroke-width="1.0"/>
<line x1="146.99" y1="9.5" x2="146.99" y2="12.1" stroke="#4a4a4a" stroke-width="1.0"/>
<line x1="192.69" y1="163.6" x2="192.69" y2="161.0" stroke="#4a4a4a" stroke-width="1.0"/>
<line x1="192.69" y1="9.5" x2="192.69" y2="12.1" stroke="#4a4a4a" stroke-width="1.0"/>
<line x1="238.40" y1="163.6" x2="238.40" y2="161.0" stroke="#4a4a4a" stroke-width="1.0"/>
<line x1="238.40" y1="9.5" x2="238.40" y2="12.1" stroke="#4a4a4a" stroke-width="1.0"/>
<line x1="40.5" y1="163.60" x2="43.1" y2="163.60" stroke="#4a4a4a" stroke-width="1.0"/>
<line x1="257.0" y1="163.60" x2="254.4" y2="163.60" stroke="#4a4a4a" stroke-width="1.0"/>
<line x1="40.5" y1="125.07" x2="43.1" y2="125.07" stroke="#4a4a4a" stroke-width="1.0"/>
<line x1="257.0" y1="125.07" x2="254.4" y2="125.07" stroke="#4a4a4a" stroke-width="1.0"/>
<line x1="40.5" y1="86.55" x2="43.1" y2="86.55" stroke="#4a4a4a" stroke-width="1.0"/>
<line x1="257.0" y1="86.55" x2="254.4" y2="86.55" stroke="#4a4a4a" stroke-width="1.0"/>
<line x1="40.5" y1="48.03" x2="43.1" y2="48.03" stroke="#4a4a4a" stroke-width="1.0"/>
<line x1="257.0" y1="48.03" x2="254.4" y2="48.03" stroke="#4a4a4a" stroke-width="1.0"/>
<line x1="40.5" y1="9.50" x2="43.1" y2="9.50" stroke="#4a4a4a" stroke-width="1.0"/>
<line x1="257.0" y1="9.50" x2="254.4" y2="9.50" stroke="#4a4a4a" stroke-width="1.0"/>
<polyline class="l lb" points="325.5,157.5 341.4,159.1 350.0,157.8 357.8,151.3 367.5,149.1 377.4,148.7 385.0,150.2 395.3,151.3 405.1,143.8 413.0,150.3 419.5,147.0 427.4,147.5 439.5,146.6 453.8,132.4 460.0,140.3 467.3,130.9 480.0,136.7 494.0,136.3 508.0,131.6 515.0,139.1 528.8,133.6 535.5,132.2 542.0,144.7" stroke="#0072BD"/>
<polyline class="l lb" points="325.5,161.3 341.4,161.0 350.0,158.1 357.8,150.7 367.5,151.5 377.4,151.1 385.0,152.0 395.3,149.5 405.1,147.9 413.0,151.3 419.5,148.5 427.4,149.2 439.5,148.1 453.8,132.1 460.0,140.4 467.3,128.6 480.0,137.6 494.0,137.4 508.0,130.9 515.0,138.7 528.8,133.5 535.5,130.6 542.0,142.9" stroke="#D95319"/>
<polyline class="l lb" points="325.5,157.3 341.4,157.2 350.0,155.2 357.8,150.6 367.5,147.2 377.4,145.7 385.0,151.6 395.3,146.6 405.1,143.8 413.0,146.8 419.5,145.9 427.4,145.3 439.5,144.3 453.8,131.3 460.0,136.8 467.3,127.3 480.0,132.5 494.0,134.0 508.0,125.0 515.0,132.1 528.8,131.6 535.5,130.0 542.0,139.0" stroke="#EDB120"/>
<polyline class="l lb" points="325.5,156.4 341.4,156.5 350.0,155.8 357.8,149.0 367.5,145.2 377.4,146.6 385.0,147.3 395.3,144.1 405.1,143.9 413.0,146.5 419.5,145.2 427.4,143.5 439.5,141.9 453.8,126.3 460.0,138.3 467.3,126.4 480.0,130.8 494.0,129.7 508.0,124.1 515.0,131.9 528.8,129.8 535.5,130.6 542.0,140.2" stroke="#7E2F8E"/>
<polyline class="l lb" points="325.5,157.4 341.4,157.5 350.0,156.3 357.8,149.8 367.5,147.9 377.4,144.0 385.0,148.9 395.3,148.2 405.1,140.8 413.0,146.1 419.5,141.6 427.4,144.4 439.5,144.8 453.8,131.3 460.0,135.0 467.3,123.1 480.0,133.4 494.0,133.3 508.0,124.7 515.0,132.9 528.8,131.1 535.5,131.1 542.0,140.0" stroke="#77AC30"/>
<polyline class="l lb" points="325.5,158.1 341.4,159.2 350.0,157.3 357.8,153.8 367.5,152.3 377.4,148.2 385.0,152.5 395.3,148.8 405.1,145.8 413.0,149.2 419.5,147.6 427.4,146.7 439.5,146.6 453.8,128.2 460.0,134.9 467.3,124.4 480.0,131.3 494.0,130.3 508.0,122.5 515.0,128.3 528.8,129.2 535.5,132.7 542.0,139.2" stroke="#4DBEEE"/>
<polyline class="l lb" points="325.5,157.5 341.4,158.6 350.0,157.4 357.8,146.5 367.5,147.3 377.4,144.3 385.0,146.8 395.3,148.3 405.1,143.2 413.0,147.5 419.5,144.9 427.4,144.8 439.5,144.7 453.8,126.6 460.0,135.3 467.3,123.4 480.0,130.2 494.0,128.8 508.0,122.3 515.0,127.1 528.8,127.3 535.5,129.7 542.0,138.4" stroke="#A2142F"/>
<polyline class="l lb" points="325.5,158.9 341.4,158.8 350.0,156.5 357.8,149.9 367.5,148.4 377.4,149.4 385.0,149.3 395.3,149.2 405.1,145.8 413.0,149.4 419.5,147.5 427.4,146.1 439.5,146.3 453.8,127.3 460.0,133.2 467.3,120.4 480.0,128.1 494.0,129.2 508.0,120.4 515.0,128.5 528.8,125.2 535.5,131.9 542.0,137.7" stroke="#0072BD"/>
<polyline class="l lb" points="325.5,156.6 341.4,155.4 350.0,154.5 357.8,146.3 367.5,144.4 377.4,143.4 385.0,146.5 395.3,144.8 405.1,139.7 413.0,145.8 419.5,140.9 427.4,143.2 439.5,144.5 453.8,124.1 460.0,128.3 467.3,119.3 480.0,127.3 494.0,125.1 508.0,119.2 515.0,124.8 528.8,126.1 535.5,132.6 542.0,137.3" stroke="#D95319"/>
<polyline class="l lb" points="325.5,160.1 341.4,159.7 350.0,157.7 357.8,147.9 367.5,146.0 377.4,146.6 385.0,148.1 395.3,147.5 405.1,146.1 413.0,147.8 419.5,144.9 427.4,146.0 439.5,144.5 453.8,123.8 460.0,131.6 467.3,122.4 480.0,126.9 494.0,126.3 508.0,119.0 515.0,123.3 528.8,124.0 535.5,130.2 542.0,136.7" stroke="#EDB120"/>
<polyline class="l lb" points="325.5,155.8 341.4,157.3 350.0,154.4 357.8,144.5 367.5,145.1 377.4,145.0 385.0,146.6 395.3,143.4 405.1,140.6 413.0,146.0 419.5,140.6 427.4,144.7 439.5,142.7 453.8,122.3 460.0,129.0 467.3,116.2 480.0,123.5 494.0,124.5 508.0,114.6 515.0,121.8 528.8,126.6 535.5,130.1 542.0,136.0" stroke="#7E2F8E"/>
<polyline class="l lb" points="325.5,157.8 341.4,156.8 350.0,156.3 357.8,146.7 367.5,147.2 377.4,145.3 385.0,148.0 395.3,147.7 405.1,143.6 413.0,144.9 419.5,144.0 427.4,144.9 439.5,143.9 453.8,122.1 460.0,126.1 467.3,117.7 480.0,122.7 494.0,123.9 508.0,112.5 515.0,120.7 528.8,125.4 535.5,129.3 542.0,136.3" stroke="#77AC30"/>
<polyline class="l lb" points="325.5,156.7 341.4,152.2 350.0,157.0 357.8,146.6 367.5,146.5 377.4,143.9 385.0,149.7 395.3,146.5 405.1,140.4 413.0,145.3 419.5,140.5 427.4,144.0 439.5,143.2 453.8,117.0 460.0,126.5 467.3,117.1 480.0,122.2 494.0,121.0 508.0,112.1 515.0,118.8 528.8,123.7 535.5,128.6 542.0,132.1" stroke="#4DBEEE"/>
<polyline class="l lb" points="325.5,157.8 341.4,158.3 350.0,155.0 357.8,148.1 367.5,144.5 377.4,144.0 385.0,147.1 395.3,145.7 405.1,142.2 413.0,146.0 419.5,142.2 427.4,143.4 439.5,144.5 453.8,117.4 460.0,123.1 467.3,114.0 480.0,121.2 494.0,119.4 508.0,111.6 515.0,120.0 528.8,119.8 535.5,127.8 542.0,134.8" stroke="#A2142F"/>
<polyline class="l lb" points="325.5,157.2 341.4,160.5 350.0,156.2 357.8,147.4 367.5,145.2 377.4,143.1 385.0,146.7 395.3,147.7 405.1,145.2 413.0,145.9 419.5,144.1 427.4,143.1 439.5,144.3 453.8,117.9 460.0,124.1 467.3,112.3 480.0,119.7 494.0,117.1 508.0,109.0 515.0,115.3 528.8,119.9 535.5,128.4 542.0,133.0" stroke="#0072BD"/>
<polyline class="l lb" points="325.5,157.4 341.4,154.2 350.0,154.9 357.8,144.9 367.5,144.6 377.4,143.8 385.0,147.4 395.3,143.9 405.1,139.5 413.0,143.1 419.5,142.8 427.4,142.7 439.5,142.8 453.8,115.4 460.0,124.4 467.3,111.5 480.0,119.1 494.0,116.1 508.0,109.2 515.0,113.7 528.8,117.7 535.5,127.8 542.0,133.1" stroke="#D95319"/>
<polyline class="l lb" points="325.5,157.3 341.4,157.8 350.0,157.3 357.8,148.7 367.5,148.1 377.4,145.2 385.0,149.2 395.3,147.5 405.1,141.3 413.0,146.2 419.5,143.4 427.4,144.2 439.5,144.7 453.8,117.1 460.0,120.5 467.3,109.8 480.0,117.1 494.0,117.3 508.0,107.3 515.0,114.6 528.8,118.6 535.5,129.6 542.0,134.7" stroke="#EDB120"/>
<polyline class="l lb" points="325.5,159.6 341.4,156.1 350.0,152.9 357.8,149.5 367.5,144.4 377.4,145.7 385.0,148.6 395.3,145.9 405.1,143.6 413.0,144.3 419.5,142.8 427.4,144.7 439.5,144.2 453.8,117.7 460.0,119.5 467.3,108.8 480.0,118.5 494.0,114.8 508.0,105.9 515.0,110.1 528.8,116.3 535.5,128.4 542.0,133.6" stroke="#7E2F8E"/>
<polyline class="l lb" points="325.5,157.9 341.4,155.8 350.0,153.6 357.8,147.4 367.5,147.1 377.4,144.3 385.0,150.6 395.3,145.9 405.1,143.3 413.0,143.1 419.5,142.7 427.4,143.7 439.5,144.2 453.8,117.7 460.0,116.5 467.3,106.4 480.0,115.8 494.0,111.8 508.0,103.4 515.0,111.6 528.8,115.7 535.5,125.9 542.0,131.7" stroke="#77AC30"/>
<polyline class="l lb" points="325.5,159.7 341.4,157.2 350.0,154.6 357.8,149.8 367.5,146.0 377.4,146.1 385.0,151.2 395.3,146.4 405.1,143.8 413.0,146.4 419.5,145.7 427.4,143.0 439.5,145.2 453.8,113.3 460.0,117.3 467.3,108.1 480.0,112.5 494.0,111.5 508.0,103.9 515.0,110.2 528.8,114.8 535.5,126.5 542.0,132.0" stroke="#4DBEEE"/>
<polyline class="l lb" points="325.5,157.4 341.4,157.0 350.0,153.7 357.8,144.7 367.5,144.9 377.4,140.7 385.0,144.2 395.3,142.6 405.1,137.0 413.0,142.7 419.5,139.7 427.4,140.0 439.5,141.9 453.8,111.6 460.0,116.6 467.3,104.4 480.0,113.6 494.0,110.3 508.0,103.5 515.0,106.1 528.8,113.5 535.5,125.8 542.0,129.9" stroke="#A2142F"/>
<polyline class="l lb" points="325.5,154.6 341.4,154.6 350.0,152.6 357.8,142.3 367.5,141.0 377.4,138.2 385.0,142.3 395.3,139.7 405.1,134.6 413.0,138.4 419.5,135.3 427.4,137.1 439.5,139.7 453.8,121.8 460.0,126.9 467.3,117.3 480.0,123.4 494.0,122.4 508.0,114.7 515.0,120.5 528.8,123.7 535.5,129.1 542.0,136.0" stroke="#D95319"/>
<polyline class="l lb" points="325.5,155.9 341.4,155.9 350.0,153.3 357.8,148.2 367.5,146.9 377.4,145.6 385.0,146.9 395.3,145.6 405.1,143.1 413.0,144.3 419.5,143.1 427.4,143.1 439.5,138.9 453.8,101.7 460.0,109.4 467.3,98.1 480.0,101.4 494.0,99.4 508.0,93.5 515.0,96.6 528.8,107.1 535.5,119.9 542.0,130.7" stroke="#EDB120"/>
<rect x="325.5" y="9.5" width="216.50" height="154.10" fill="none" stroke="#4a4a4a" stroke-width="1.3"/>
<line x1="340.58" y1="163.6" x2="340.58" y2="161.0" stroke="#4a4a4a" stroke-width="1.0"/>
<line x1="340.58" y1="9.5" x2="340.58" y2="12.1" stroke="#4a4a4a" stroke-width="1.0"/>
<line x1="386.29" y1="163.6" x2="386.29" y2="161.0" stroke="#4a4a4a" stroke-width="1.0"/>
<line x1="386.29" y1="9.5" x2="386.29" y2="12.1" stroke="#4a4a4a" stroke-width="1.0"/>
<line x1="431.99" y1="163.6" x2="431.99" y2="161.0" stroke="#4a4a4a" stroke-width="1.0"/>
<line x1="431.99" y1="9.5" x2="431.99" y2="12.1" stroke="#4a4a4a" stroke-width="1.0"/>
<line x1="477.69" y1="163.6" x2="477.69" y2="161.0" stroke="#4a4a4a" stroke-width="1.0"/>
<line x1="477.69" y1="9.5" x2="477.69" y2="12.1" stroke="#4a4a4a" stroke-width="1.0"/>
<line x1="523.40" y1="163.6" x2="523.40" y2="161.0" stroke="#4a4a4a" stroke-width="1.0"/>
<line x1="523.40" y1="9.5" x2="523.40" y2="12.1" stroke="#4a4a4a" stroke-width="1.0"/>
<line x1="325.5" y1="163.60" x2="328.1" y2="163.60" stroke="#4a4a4a" stroke-width="1.0"/>
<line x1="542.0" y1="163.60" x2="539.4" y2="163.60" stroke="#4a4a4a" stroke-width="1.0"/>
<line x1="325.5" y1="112.23" x2="328.1" y2="112.23" stroke="#4a4a4a" stroke-width="1.0"/>
<line x1="542.0" y1="112.23" x2="539.4" y2="112.23" stroke="#4a4a4a" stroke-width="1.0"/>
<line x1="325.5" y1="60.87" x2="328.1" y2="60.87" stroke="#4a4a4a" stroke-width="1.0"/>
<line x1="542.0" y1="60.87" x2="539.4" y2="60.87" stroke="#4a4a4a" stroke-width="1.0"/>
<line x1="325.5" y1="9.50" x2="328.1" y2="9.50" stroke="#4a4a4a" stroke-width="1.0"/>
<line x1="542.0" y1="9.50" x2="539.4" y2="9.50" stroke="#4a4a4a" stroke-width="1.0"/>
<polyline class="l" points="40.5,342.8 41.9,342.3 43.2,341.8 44.6,341.3 46.0,340.8 47.4,340.2 48.7,339.7 50.1,339.0 51.5,338.4 52.8,337.7 54.2,337.0 55.6,336.3 57.0,335.5 58.3,334.7 59.7,333.8 61.1,332.9 62.4,331.9 63.8,330.9 65.2,329.9 66.6,328.9 67.9,327.8 69.3,326.8 70.7,325.8 72.0,324.8 73.4,323.7 74.8,322.7 76.1,321.7 77.5,320.7 78.9,319.8 80.3,318.8 81.6,317.9 83.0,317.0 84.4,316.2 85.7,315.4 87.1,314.7 88.5,314.1 89.9,313.5 91.2,312.9 92.6,312.4 94.0,311.9 95.3,311.4 96.7,310.9 98.1,310.5 99.5,310.1 100.8,309.6 102.2,309.2 103.6,308.8 104.9,308.4 106.3,308.0 107.7,307.6 109.1,307.3 110.4,306.9 111.8,306.5 113.2,306.2 114.5,305.8 115.9,305.5 117.3,305.2 118.7,304.8 120.0,304.5 121.4,304.2 122.8,303.9 124.1,303.6 125.5,303.3 126.9,303.0 128.3,302.7 129.6,302.5 131.0,302.2 132.4,301.9 133.7,301.7 135.1,301.4 136.5,301.1 137.8,300.9 139.2,300.6 140.6,300.4 142.0,300.1 143.3,299.9 144.7,299.7 146.1,299.4 147.4,299.2 148.8,298.9 150.2,298.7 151.6,298.4 152.9,298.2 154.3,297.9 155.7,297.7 157.0,297.4 158.4,297.2 159.8,296.9 161.2,296.7 162.5,296.4 163.9,296.2 165.3,296.0 166.6,295.7 168.0,295.5 169.4,295.2 170.8,295.0 172.1,294.8 173.5,294.5 174.9,294.3 176.2,294.1 177.6,293.9 179.0,293.7 180.4,293.5 181.7,293.3 183.1,293.1 184.5,292.9 185.8,292.7 187.2,292.6 188.6,292.4 190.0,292.2 191.3,292.1 192.7,291.9 194.1,291.8 195.4,291.7 196.8,291.5 198.2,291.4 199.6,291.3 200.9,291.1 202.3,291.0 203.7,290.9 205.0,290.7 206.4,290.6 207.8,290.5 209.1,290.4 210.5,290.2 211.9,290.1 213.3,290.0 214.6,289.9 216.0,289.8 217.4,289.6 218.7,289.5 220.1,289.4 221.5,289.3 222.9,289.2 224.2,289.1 225.6,289.0 227.0,288.9 228.3,288.8 229.7,288.7 231.1,288.6 232.5,288.5 233.8,288.4 235.2,288.3 236.6,288.3 237.9,288.2 239.3,288.1 240.7,288.0 242.1,288.0 243.4,287.9 244.8,287.9 246.2,287.8 247.5,287.7 248.9,287.7 250.3,287.7 251.7,287.6 253.0,287.6 254.4,287.5 255.8,287.5" stroke="#77AC30"/>
<polyline class="l" points="40.5,340.9 41.9,340.4 43.2,340.0 44.6,339.5 46.0,339.0 47.4,338.6 48.7,338.0 50.1,337.5 51.5,337.0 52.8,336.4 54.2,335.9 55.6,335.3 57.0,334.7 58.3,334.0 59.7,333.4 61.1,332.7 62.4,332.1 63.8,331.3 65.2,330.6 66.6,329.9 67.9,329.1 69.3,328.3 70.7,327.5 72.0,326.7 73.4,325.8 74.8,324.9 76.1,323.9 77.5,322.9 78.9,322.0 80.3,321.0 81.6,320.0 83.0,319.1 84.4,318.2 85.7,317.4 87.1,316.6 88.5,316.0 89.9,315.3 91.2,314.7 92.6,314.2 94.0,313.7 95.3,313.2 96.7,312.7 98.1,312.3 99.5,311.8 100.8,311.4 102.2,310.9 103.6,310.5 104.9,310.1 106.3,309.7 107.7,309.3 109.1,308.9 110.4,308.6 111.8,308.2 113.2,307.8 114.5,307.5 115.9,307.1 117.3,306.8 118.7,306.4 120.0,306.1 121.4,305.8 122.8,305.5 124.1,305.1 125.5,304.8 126.9,304.5 128.3,304.2 129.6,303.9 131.0,303.7 132.4,303.4 133.7,303.1 135.1,302.8 136.5,302.6 137.8,302.3 139.2,302.0 140.6,301.8 142.0,301.5 143.3,301.3 144.7,301.0 146.1,300.8 147.4,300.5 148.8,300.3 150.2,300.0 151.6,299.8 152.9,299.5 154.3,299.3 155.7,299.1 157.0,298.8 158.4,298.6 159.8,298.3 161.2,298.1 162.5,297.9 163.9,297.6 165.3,297.4 166.6,297.2 168.0,296.9 169.4,296.7 170.8,296.5 172.1,296.3 173.5,296.0 174.9,295.8 176.2,295.6 177.6,295.4 179.0,295.2 180.4,295.0 181.7,294.8 183.1,294.6 184.5,294.4 185.8,294.3 187.2,294.1 188.6,293.9 190.0,293.8 191.3,293.6 192.7,293.5 194.1,293.3 195.4,293.2 196.8,293.0 198.2,292.9 199.6,292.8 200.9,292.6 202.3,292.5 203.7,292.4 205.0,292.2 206.4,292.1 207.8,292.0 209.1,291.8 210.5,291.7 211.9,291.6 213.3,291.4 214.6,291.3 216.0,291.2 217.4,291.1 218.7,291.0 220.1,290.8 221.5,290.7 222.9,290.6 224.2,290.5 225.6,290.4 227.0,290.3 228.3,290.2 229.7,290.1 231.1,290.0 232.5,289.9 233.8,289.8 235.2,289.7 236.6,289.6 237.9,289.5 239.3,289.4 240.7,289.4 242.1,289.3 243.4,289.2 244.8,289.1 246.2,289.1 247.5,289.0 248.9,288.9 250.3,288.9 251.7,288.8 253.0,288.8 254.4,288.7 255.8,288.7" stroke="#4DBEEE"/>
<polyline class="l" points="40.5,336.6 41.9,336.4 43.2,336.2 44.6,336.0 46.0,335.8 47.4,335.5 48.7,335.3 50.1,335.0 51.5,334.7 52.8,334.4 54.2,334.0 55.6,333.7 57.0,333.3 58.3,332.9 59.7,332.5 61.1,332.0 62.4,331.6 63.8,331.1 65.2,330.6 66.6,330.1 67.9,329.5 69.3,329.0 70.7,328.5 72.0,328.0 73.4,327.4 74.8,326.9 76.1,326.4 77.5,325.9 78.9,325.4 80.3,324.8 81.6,324.4 83.0,323.9 84.4,323.5 85.7,323.1 87.1,322.7 88.5,322.4 89.9,322.1 91.2,321.8 92.6,321.5 94.0,321.3 95.3,321.0 96.7,320.7 98.1,320.5 99.5,320.2 100.8,319.9 102.2,319.5 103.6,319.2 104.9,318.8 106.3,318.4 107.7,318.0 109.1,317.5 110.4,317.1 111.8,316.6 113.2,316.1 114.5,315.6 115.9,315.1 117.3,314.6 118.7,314.2 120.0,313.7 121.4,313.3 122.8,312.8 124.1,312.4 125.5,312.0 126.9,311.6 128.3,311.2 129.6,310.8 131.0,310.4 132.4,310.1 133.7,309.7 135.1,309.3 136.5,309.0 137.8,308.6 139.2,308.3 140.6,307.9 142.0,307.6 143.3,307.3 144.7,306.9 146.1,306.6 147.4,306.3 148.8,305.9 150.2,305.6 151.6,305.3 152.9,305.0 154.3,304.6 155.7,304.3 157.0,304.0 158.4,303.6 159.8,303.3 161.2,303.0 162.5,302.6 163.9,302.3 165.3,302.0 166.6,301.7 168.0,301.3 169.4,301.0 170.8,300.7 172.1,300.4 173.5,300.1 174.9,299.8 176.2,299.5 177.6,299.3 179.0,299.0 180.4,298.7 181.7,298.5 183.1,298.2 184.5,298.0 185.8,297.8 187.2,297.5 188.6,297.3 190.0,297.1 191.3,296.9 192.7,296.8 194.1,296.6 195.4,296.4 196.8,296.2 198.2,296.1 199.6,295.9 200.9,295.7 202.3,295.6 203.7,295.4 205.0,295.3 206.4,295.1 207.8,294.9 209.1,294.8 210.5,294.6 211.9,294.5 213.3,294.3 214.6,294.2 216.0,294.0 217.4,293.9 218.7,293.7 220.1,293.6 221.5,293.5 222.9,293.3 224.2,293.2 225.6,293.1 227.0,292.9 228.3,292.8 229.7,292.7 231.1,292.6 232.5,292.5 233.8,292.4 235.2,292.3 236.6,292.2 237.9,292.1 239.3,292.0 240.7,291.9 242.1,291.9 243.4,291.8 244.8,291.7 246.2,291.7 247.5,291.6 248.9,291.5 250.3,291.5 251.7,291.5 253.0,291.4 254.4,291.4 255.8,291.4" stroke="#7E2F8E"/>
<polyline class="l" points="40.5,344.2 41.9,343.6 43.2,343.1 44.6,342.5 46.0,341.9 47.4,341.3 48.7,340.7 50.1,340.1 51.5,339.4 52.8,338.7 54.2,338.0 55.6,337.3 57.0,336.6 58.3,335.8 59.7,335.0 61.1,334.2 62.4,333.4 63.8,332.5 65.2,331.6 66.6,330.7 67.9,329.9 69.3,329.0 70.7,328.1 72.0,327.2 73.4,326.3 74.8,325.3 76.1,324.4 77.5,323.5 78.9,322.6 80.3,321.8 81.6,320.9 83.0,320.1 84.4,319.3 85.7,318.6 87.1,318.0 88.5,317.4 89.9,316.8 91.2,316.3 92.6,315.8 94.0,315.4 95.3,314.9 96.7,314.5 98.1,314.1 99.5,313.7 100.8,313.3 102.2,312.9 103.6,312.5 104.9,312.0 106.3,311.6 107.7,311.2 109.1,310.9 110.4,310.5 111.8,310.1 113.2,309.7 114.5,309.3 115.9,309.0 117.3,308.6 118.7,308.2 120.0,307.9 121.4,307.6 122.8,307.2 124.1,306.9 125.5,306.6 126.9,306.2 128.3,305.9 129.6,305.6 131.0,305.3 132.4,305.0 133.7,304.7 135.1,304.4 136.5,304.2 137.8,303.9 139.2,303.6 140.6,303.3 142.0,303.1 143.3,302.8 144.7,302.6 146.1,302.3 147.4,302.1 148.8,301.8 150.2,301.6 151.6,301.3 152.9,301.1 154.3,300.8 155.7,300.6 157.0,300.4 158.4,300.1 159.8,299.9 161.2,299.7 162.5,299.4 163.9,299.2 165.3,299.0 166.6,298.8 168.0,298.5 169.4,298.3 170.8,298.1 172.1,297.9 173.5,297.7 174.9,297.5 176.2,297.3 177.6,297.1 179.0,296.9 180.4,296.7 181.7,296.5 183.1,296.3 184.5,296.2 185.8,296.0 187.2,295.8 188.6,295.7 190.0,295.5 191.3,295.4 192.7,295.2 194.1,295.1 195.4,294.9 196.8,294.8 198.2,294.6 199.6,294.5 200.9,294.4 202.3,294.2 203.7,294.1 205.0,294.0 206.4,293.8 207.8,293.7 209.1,293.6 210.5,293.5 211.9,293.3 213.3,293.2 214.6,293.1 216.0,293.0 217.4,292.8 218.7,292.7 220.1,292.6 221.5,292.5 222.9,292.4 224.2,292.3 225.6,292.2 227.0,292.0 228.3,291.9 229.7,291.8 231.1,291.7 232.5,291.6 233.8,291.6 235.2,291.5 236.6,291.4 237.9,291.3 239.3,291.2 240.7,291.1 242.1,291.0 243.4,291.0 244.8,290.9 246.2,290.8 247.5,290.8 248.9,290.7 250.3,290.6 251.7,290.6 253.0,290.5 254.4,290.5 255.8,290.4" stroke="#D95319"/>
<polyline class="l" points="40.5,346.6 41.9,346.2 43.2,345.7 44.6,345.2 46.0,344.7 47.4,344.2 48.7,343.6 50.1,343.0 51.5,342.3 52.8,341.6 54.2,340.9 55.6,340.1 57.0,339.3 58.3,338.5 59.7,337.5 61.1,336.5 62.4,335.5 63.8,334.5 65.2,333.4 66.6,332.3 67.9,331.2 69.3,330.1 70.7,329.1 72.0,328.1 73.4,327.1 74.8,326.1 76.1,325.2 77.5,324.3 78.9,323.4 80.3,322.6 81.6,321.8 83.0,321.0 84.4,320.3 85.7,319.7 87.1,319.1 88.5,318.5 89.9,318.0 91.2,317.5 92.6,317.1 94.0,316.6 95.3,316.2 96.7,315.8 98.1,315.4 99.5,315.0 100.8,314.6 102.2,314.2 103.6,313.8 104.9,313.4 106.3,313.0 107.7,312.6 109.1,312.2 110.4,311.8 111.8,311.4 113.2,311.1 114.5,310.7 115.9,310.3 117.3,310.0 118.7,309.6 120.0,309.2 121.4,308.9 122.8,308.6 124.1,308.2 125.5,307.9 126.9,307.6 128.3,307.3 129.6,307.0 131.0,306.7 132.4,306.4 133.7,306.1 135.1,305.8 136.5,305.5 137.8,305.2 139.2,305.0 140.6,304.7 142.0,304.4 143.3,304.2 144.7,303.9 146.1,303.7 147.4,303.4 148.8,303.2 150.2,302.9 151.6,302.7 152.9,302.4 154.3,302.2 155.7,302.0 157.0,301.7 158.4,301.5 159.8,301.3 161.2,301.0 162.5,300.8 163.9,300.6 165.3,300.3 166.6,300.1 168.0,299.9 169.4,299.7 170.8,299.5 172.1,299.3 173.5,299.1 174.9,298.9 176.2,298.7 177.6,298.5 179.0,298.3 180.4,298.1 181.7,297.9 183.1,297.8 184.5,297.6 185.8,297.4 187.2,297.3 188.6,297.1 190.0,297.0 191.3,296.9 192.7,296.8 194.1,296.6 195.4,296.5 196.8,296.4 198.2,296.3 199.6,296.2 200.9,296.1 202.3,295.9 203.7,295.8 205.0,295.7 206.4,295.6 207.8,295.5 209.1,295.4 210.5,295.3 211.9,295.2 213.3,295.1 214.6,295.0 216.0,294.9 217.4,294.8 218.7,294.7 220.1,294.6 221.5,294.5 222.9,294.4 224.2,294.3 225.6,294.2 227.0,294.1 228.3,294.1 229.7,294.0 231.1,293.9 232.5,293.8 233.8,293.8 235.2,293.7 236.6,293.6 237.9,293.6 239.3,293.5 240.7,293.5 242.1,293.4 243.4,293.4 244.8,293.3 246.2,293.3 247.5,293.2 248.9,293.2 250.3,293.2 251.7,293.1 253.0,293.1 254.4,293.1 255.8,293.1" stroke="#A2142F"/>
<polyline class="l" points="40.5,338.0 41.9,337.8 43.2,337.6 44.6,337.3 46.0,337.1 47.4,336.8 48.7,336.6 50.1,336.3 51.5,336.0 52.8,335.7 54.2,335.4 55.6,335.1 57.0,334.7 58.3,334.4 59.7,334.0 61.1,333.7 62.4,333.3 63.8,332.9 65.2,332.4 66.6,332.0 67.9,331.5 69.3,331.0 70.7,330.5 72.0,329.9 73.4,329.3 74.8,328.6 76.1,327.9 77.5,327.1 78.9,326.3 80.3,325.5 81.6,324.7 83.0,324.0 84.4,323.3 85.7,322.6 87.1,322.0 88.5,321.4 89.9,320.9 91.2,320.5 92.6,320.0 94.0,319.6 95.3,319.2 96.7,318.8 98.1,318.5 99.5,318.1 100.8,317.7 102.2,317.2 103.6,316.8 104.9,316.4 106.3,316.0 107.7,315.5 109.1,315.1 110.4,314.7 111.8,314.2 113.2,313.8 114.5,313.3 115.9,312.9 117.3,312.5 118.7,312.1 120.0,311.6 121.4,311.2 122.8,310.8 124.1,310.5 125.5,310.1 126.9,309.7 128.3,309.3 129.6,308.9 131.0,308.6 132.4,308.2 133.7,307.9 135.1,307.5 136.5,307.2 137.8,306.8 139.2,306.5 140.6,306.2 142.0,305.9 143.3,305.6 144.7,305.3 146.1,305.0 147.4,304.8 148.8,304.5 150.2,304.3 151.6,304.0 152.9,303.8 154.3,303.6 155.7,303.3 157.0,303.1 158.4,302.9 159.8,302.7 161.2,302.4 162.5,302.2 163.9,302.0 165.3,301.8 166.6,301.6 168.0,301.4 169.4,301.2 170.8,301.0 172.1,300.8 173.5,300.7 174.9,300.5 176.2,300.3 177.6,300.1 179.0,300.0 180.4,299.8 181.7,299.6 183.1,299.5 184.5,299.3 185.8,299.2 187.2,299.0 188.6,298.9 190.0,298.8 191.3,298.6 192.7,298.5 194.1,298.4 195.4,298.2 196.8,298.1 198.2,298.0 199.6,297.8 200.9,297.7 202.3,297.6 203.7,297.5 205.0,297.3 206.4,297.2 207.8,297.1 209.1,297.0 210.5,296.9 211.9,296.8 213.3,296.6 214.6,296.5 216.0,296.4 217.4,296.3 218.7,296.2 220.1,296.1 221.5,296.0 222.9,295.9 224.2,295.8 225.6,295.7 227.0,295.6 228.3,295.5 229.7,295.4 231.1,295.3 232.5,295.2 233.8,295.1 235.2,295.0 236.6,295.0 237.9,294.9 239.3,294.8 240.7,294.7 242.1,294.7 243.4,294.6 244.8,294.5 246.2,294.5 247.5,294.4 248.9,294.3 250.3,294.3 251.7,294.2 253.0,294.2 254.4,294.1 255.8,294.1" stroke="#0072BD"/>
<polyline class="l" points="40.5,348.4 41.9,347.6 43.2,346.8 44.6,346.0 46.0,345.2 47.4,344.3 48.7,343.5 50.1,342.7 51.5,341.9 52.8,341.0 54.2,340.2 55.6,339.3 57.0,338.5 58.3,337.6 59.7,336.7 61.1,335.9 62.4,335.0 63.8,334.1 65.2,333.2 66.6,332.3 67.9,331.4 69.3,330.6 70.7,329.7 72.0,328.8 73.4,328.0 74.8,327.1 76.1,326.3 77.5,325.5 78.9,324.6 80.3,323.8 81.6,323.1 83.0,322.3 84.4,321.7 85.7,321.0 87.1,320.4 88.5,319.9 89.9,319.4 91.2,318.9 92.6,318.5 94.0,318.1 95.3,317.7 96.7,317.3 98.1,316.9 99.5,316.5 100.8,316.1 102.2,315.7 103.6,315.3 104.9,315.0 106.3,314.6 107.7,314.2 109.1,313.8 110.4,313.4 111.8,313.0 113.2,312.6 114.5,312.2 115.9,311.8 117.3,311.4 118.7,311.1 120.0,310.7 121.4,310.4 122.8,310.0 124.1,309.7 125.5,309.4 126.9,309.0 128.3,308.7 129.6,308.4 131.0,308.1 132.4,307.8 133.7,307.5 135.1,307.2 136.5,306.9 137.8,306.6 139.2,306.3 140.6,306.1 142.0,305.8 143.3,305.5 144.7,305.3 146.1,305.0 147.4,304.8 148.8,304.5 150.2,304.3 151.6,304.0 152.9,303.8 154.3,303.5 155.7,303.3 157.0,303.0 158.4,302.8 159.8,302.6 161.2,302.3 162.5,302.1 163.9,301.8 165.3,301.6 166.6,301.4 168.0,301.2 169.4,300.9 170.8,300.7 172.1,300.5 173.5,300.3 174.9,300.1 176.2,299.9 177.6,299.7 179.0,299.5 180.4,299.3 181.7,299.1 183.1,298.9 184.5,298.7 185.8,298.5 187.2,298.4 188.6,298.2 190.0,298.0 191.3,297.9 192.7,297.7 194.1,297.6 195.4,297.4 196.8,297.3 198.2,297.1 199.6,297.0 200.9,296.8 202.3,296.7 203.7,296.5 205.0,296.4 206.4,296.3 207.8,296.1 209.1,296.0 210.5,295.9 211.9,295.7 213.3,295.6 214.6,295.5 216.0,295.3 217.4,295.2 218.7,295.1 220.1,294.9 221.5,294.8 222.9,294.7 224.2,294.6 225.6,294.5 227.0,294.4 228.3,294.2 229.7,294.1 231.1,294.0 232.5,293.9 233.8,293.8 235.2,293.7 236.6,293.6 237.9,293.5 239.3,293.4 240.7,293.3 242.1,293.3 243.4,293.2 244.8,293.1 246.2,293.0 247.5,292.9 248.9,292.9 250.3,292.8 251.7,292.7 253.0,292.7 254.4,292.6 255.8,292.6" stroke="#A2142F"/>
<polyline class="l" points="40.5,349.7 41.9,349.3 43.2,349.0 44.6,348.5 46.0,348.1 47.4,347.5 48.7,347.0 50.1,346.3 51.5,345.7 52.8,344.9 54.2,344.2 55.6,343.3 57.0,342.4 58.3,341.4 59.7,340.2 61.1,339.0 62.4,337.7 63.8,336.4 65.2,335.0 66.6,333.7 67.9,332.3 69.3,331.1 70.7,329.9 72.0,328.8 73.4,327.9 74.8,327.0 76.1,326.2 77.5,325.4 78.9,324.7 80.3,324.1 81.6,323.5 83.0,322.9 84.4,322.4 85.7,321.9 87.1,321.5 88.5,321.1 89.9,320.7 91.2,320.3 92.6,320.0 94.0,319.6 95.3,319.3 96.7,319.0 98.1,318.7 99.5,318.4 100.8,318.0 102.2,317.7 103.6,317.3 104.9,316.9 106.3,316.5 107.7,316.1 109.1,315.7 110.4,315.3 111.8,314.9 113.2,314.5 114.5,314.1 115.9,313.7 117.3,313.3 118.7,312.9 120.0,312.5 121.4,312.1 122.8,311.8 124.1,311.4 125.5,311.1 126.9,310.7 128.3,310.4 129.6,310.1 131.0,309.8 132.4,309.5 133.7,309.2 135.1,308.8 136.5,308.5 137.8,308.3 139.2,308.0 140.6,307.7 142.0,307.4 143.3,307.1 144.7,306.8 146.1,306.6 147.4,306.3 148.8,306.0 150.2,305.8 151.6,305.5 152.9,305.2 154.3,304.9 155.7,304.7 157.0,304.4 158.4,304.1 159.8,303.8 161.2,303.6 162.5,303.3 163.9,303.0 165.3,302.8 166.6,302.5 168.0,302.3 169.4,302.0 170.8,301.8 172.1,301.5 173.5,301.3 174.9,301.0 176.2,300.8 177.6,300.6 179.0,300.4 180.4,300.2 181.7,300.0 183.1,299.8 184.5,299.6 185.8,299.4 187.2,299.3 188.6,299.1 190.0,299.0 191.3,298.8 192.7,298.7 194.1,298.6 195.4,298.4 196.8,298.3 198.2,298.2 199.6,298.1 200.9,298.0 202.3,297.9 203.7,297.8 205.0,297.7 206.4,297.6 207.8,297.4 209.1,297.3 210.5,297.2 211.9,297.1 213.3,297.0 214.6,296.9 216.0,296.8 217.4,296.7 218.7,296.7 220.1,296.6 221.5,296.5 222.9,296.4 224.2,296.3 225.6,296.2 227.0,296.1 228.3,296.1 229.7,296.0 231.1,295.9 232.5,295.9 233.8,295.8 235.2,295.7 236.6,295.7 237.9,295.6 239.3,295.6 240.7,295.5 242.1,295.5 243.4,295.4 244.8,295.4 246.2,295.3 247.5,295.3 248.9,295.3 250.3,295.3 251.7,295.2 253.0,295.2 254.4,295.2 255.8,295.2" stroke="#EDB120"/>
<polyline class="l" points="40.5,350.9 41.9,350.2 43.2,349.6 44.6,348.9 46.0,348.2 47.4,347.5 48.7,346.7 50.1,345.9 51.5,345.2 52.8,344.3 54.2,343.5 55.6,342.6 57.0,341.7 58.3,340.8 59.7,339.8 61.1,338.7 62.4,337.7 63.8,336.6 65.2,335.6 66.6,334.5 67.9,333.5 69.3,332.5 70.7,331.5 72.0,330.6 73.4,329.7 74.8,328.9 76.1,328.1 77.5,327.4 78.9,326.7 80.3,326.0 81.6,325.4 83.0,324.8 84.4,324.2 85.7,323.7 87.1,323.2 88.5,322.8 89.9,322.4 91.2,322.0 92.6,321.6 94.0,321.3 95.3,320.9 96.7,320.6 98.1,320.3 99.5,319.9 100.8,319.6 102.2,319.2 103.6,318.8 104.9,318.4 106.3,318.0 107.7,317.6 109.1,317.2 110.4,316.8 111.8,316.4 113.2,316.0 114.5,315.6 115.9,315.2 117.3,314.8 118.7,314.4 120.0,314.0 121.4,313.6 122.8,313.2 124.1,312.9 125.5,312.5 126.9,312.2 128.3,311.8 129.6,311.5 131.0,311.2 132.4,310.9 133.7,310.5 135.1,310.2 136.5,309.9 137.8,309.6 139.2,309.3 140.6,309.0 142.0,308.7 143.3,308.5 144.7,308.2 146.1,307.9 147.4,307.7 148.8,307.4 150.2,307.1 151.6,306.9 152.9,306.6 154.3,306.4 155.7,306.1 157.0,305.8 158.4,305.6 159.8,305.3 161.2,305.1 162.5,304.8 163.9,304.6 165.3,304.3 166.6,304.1 168.0,303.9 169.4,303.6 170.8,303.4 172.1,303.2 173.5,302.9 174.9,302.7 176.2,302.5 177.6,302.3 179.0,302.1 180.4,301.9 181.7,301.8 183.1,301.6 184.5,301.4 185.8,301.3 187.2,301.1 188.6,301.0 190.0,300.9 191.3,300.7 192.7,300.6 194.1,300.5 195.4,300.4 196.8,300.3 198.2,300.2 199.6,300.1 200.9,300.0 202.3,299.9 203.7,299.8 205.0,299.7 206.4,299.6 207.8,299.5 209.1,299.4 210.5,299.3 211.9,299.2 213.3,299.1 214.6,299.1 216.0,299.0 217.4,298.9 218.7,298.8 220.1,298.7 221.5,298.6 222.9,298.6 224.2,298.5 225.6,298.4 227.0,298.3 228.3,298.3 229.7,298.2 231.1,298.1 232.5,298.1 233.8,298.0 235.2,298.0 236.6,297.9 237.9,297.9 239.3,297.8 240.7,297.8 242.1,297.7 243.4,297.7 244.8,297.7 246.2,297.6 247.5,297.6 248.9,297.6 250.3,297.6 251.7,297.6 253.0,297.5 254.4,297.5 255.8,297.5" stroke="#7E2F8E"/>
<polyline class="l" points="40.5,352.8 41.9,352.0 43.2,351.2 44.6,350.3 46.0,349.5 47.4,348.6 48.7,347.8 50.1,346.9 51.5,346.0 52.8,345.1 54.2,344.2 55.6,343.3 57.0,342.4 58.3,341.5 59.7,340.5 61.1,339.6 62.4,338.6 63.8,337.7 65.2,336.7 66.6,335.8 67.9,334.8 69.3,333.9 70.7,333.0 72.0,332.2 73.4,331.4 74.8,330.6 76.1,329.8 77.5,329.0 78.9,328.3 80.3,327.6 81.6,326.9 83.0,326.3 84.4,325.7 85.7,325.2 87.1,324.7 88.5,324.2 89.9,323.8 91.2,323.4 92.6,323.0 94.0,322.7 95.3,322.3 96.7,322.0 98.1,321.6 99.5,321.3 100.8,320.9 102.2,320.5 103.6,320.2 104.9,319.8 106.3,319.4 107.7,319.0 109.1,318.6 110.4,318.1 111.8,317.7 113.2,317.3 114.5,316.9 115.9,316.5 117.3,316.1 118.7,315.7 120.0,315.3 121.4,314.9 122.8,314.6 124.1,314.2 125.5,313.9 126.9,313.5 128.3,313.2 129.6,312.8 131.0,312.5 132.4,312.2 133.7,311.9 135.1,311.5 136.5,311.2 137.8,310.9 139.2,310.6 140.6,310.4 142.0,310.1 143.3,309.8 144.7,309.5 146.1,309.3 147.4,309.0 148.8,308.8 150.2,308.5 151.6,308.3 152.9,308.1 154.3,307.8 155.7,307.6 157.0,307.4 158.4,307.1 159.8,306.9 161.2,306.7 162.5,306.5 163.9,306.3 165.3,306.1 166.6,305.8 168.0,305.6 169.4,305.4 170.8,305.2 172.1,305.1 173.5,304.9 174.9,304.7 176.2,304.5 177.6,304.3 179.0,304.1 180.4,304.0 181.7,303.8 183.1,303.6 184.5,303.4 185.8,303.3 187.2,303.1 188.6,303.0 190.0,302.8 191.3,302.7 192.7,302.5 194.1,302.4 195.4,302.2 196.8,302.1 198.2,302.0 199.6,301.8 200.9,301.7 202.3,301.6 203.7,301.4 205.0,301.3 206.4,301.2 207.8,301.0 209.1,300.9 210.5,300.8 211.9,300.6 213.3,300.5 214.6,300.4 216.0,300.3 217.4,300.2 218.7,300.0 220.1,299.9 221.5,299.8 222.9,299.7 224.2,299.6 225.6,299.5 227.0,299.3 228.3,299.2 229.7,299.1 231.1,299.0 232.5,298.9 233.8,298.8 235.2,298.7 236.6,298.6 237.9,298.5 239.3,298.5 240.7,298.4 242.1,298.3 243.4,298.2 244.8,298.1 246.2,298.0 247.5,298.0 248.9,297.9 250.3,297.8 251.7,297.8 253.0,297.7 254.4,297.6 255.8,297.6" stroke="#77AC30"/>
<polyline class="l" points="40.5,354.1 41.9,353.7 43.2,353.2 44.6,352.6 46.0,352.0 47.4,351.4 48.7,350.7 50.1,350.0 51.5,349.2 52.8,348.3 54.2,347.5 55.6,346.5 57.0,345.4 58.3,344.3 59.7,343.1 61.1,341.7 62.4,340.3 63.8,338.9 65.2,337.4 66.6,336.0 67.9,334.6 69.3,333.3 70.7,332.2 72.0,331.2 73.4,330.2 74.8,329.5 76.1,328.8 77.5,328.1 78.9,327.6 80.3,327.0 81.6,326.6 83.0,326.1 84.4,325.7 85.7,325.4 87.1,325.0 88.5,324.7 89.9,324.4 91.2,324.1 92.6,323.8 94.0,323.6 95.3,323.3 96.7,323.1 98.1,322.8 99.5,322.5 100.8,322.2 102.2,321.9 103.6,321.6 104.9,321.2 106.3,320.8 107.7,320.5 109.1,320.1 110.4,319.7 111.8,319.2 113.2,318.8 114.5,318.4 115.9,318.0 117.3,317.6 118.7,317.2 120.0,316.8 121.4,316.4 122.8,316.0 124.1,315.7 125.5,315.3 126.9,315.0 128.3,314.7 129.6,314.3 131.0,314.0 132.4,313.7 133.7,313.4 135.1,313.1 136.5,312.8 137.8,312.5 139.2,312.2 140.6,311.9 142.0,311.6 143.3,311.3 144.7,311.1 146.1,310.8 147.4,310.5 148.8,310.3 150.2,310.0 151.6,309.8 152.9,309.5 154.3,309.2 155.7,309.0 157.0,308.7 158.4,308.5 159.8,308.2 161.2,308.0 162.5,307.7 163.9,307.5 165.3,307.2 166.6,307.0 168.0,306.7 169.4,306.5 170.8,306.3 172.1,306.0 173.5,305.8 174.9,305.6 176.2,305.4 177.6,305.2 179.0,305.0 180.4,304.8 181.7,304.6 183.1,304.5 184.5,304.3 185.8,304.1 187.2,304.0 188.6,303.9 190.0,303.7 191.3,303.6 192.7,303.5 194.1,303.4 195.4,303.3 196.8,303.2 198.2,303.1 199.6,303.0 200.9,302.9 202.3,302.8 203.7,302.7 205.0,302.6 206.4,302.5 207.8,302.5 209.1,302.4 210.5,302.3 211.9,302.2 213.3,302.1 214.6,302.0 216.0,301.9 217.4,301.9 218.7,301.8 220.1,301.7 221.5,301.6 222.9,301.6 224.2,301.5 225.6,301.4 227.0,301.4 228.3,301.3 229.7,301.2 231.1,301.2 232.5,301.1 233.8,301.1 235.2,301.0 236.6,301.0 237.9,300.9 239.3,300.9 240.7,300.8 242.1,300.8 243.4,300.8 244.8,300.7 246.2,300.7 247.5,300.7 248.9,300.7 250.3,300.7 251.7,300.6 253.0,300.6 254.4,300.6 255.8,300.6" stroke="#D95319"/>
<polyline class="l" points="40.5,351.7 41.9,351.1 43.2,350.6 44.6,350.0 46.0,349.4 47.4,348.8 48.7,348.1 50.1,347.4 51.5,346.7 52.8,345.9 54.2,345.1 55.6,344.2 57.0,343.3 58.3,342.2 59.7,341.1 61.1,340.0 62.4,338.8 63.8,337.5 65.2,336.3 66.6,335.1 67.9,333.9 69.3,332.9 70.7,331.9 72.0,331.0 73.4,330.3 74.8,329.6 76.1,329.1 77.5,328.6 78.9,328.1 80.3,327.7 81.6,327.3 83.0,326.9 84.4,326.6 85.7,326.3 87.1,326.0 88.5,325.8 89.9,325.5 91.2,325.3 92.6,325.1 94.0,324.9 95.3,324.7 96.7,324.5 98.1,324.2 99.5,324.0 100.8,323.7 102.2,323.4 103.6,323.1 104.9,322.8 106.3,322.4 107.7,322.1 109.1,321.7 110.4,321.3 111.8,320.8 113.2,320.4 114.5,320.0 115.9,319.5 117.3,319.1 118.7,318.7 120.0,318.3 121.4,317.9 122.8,317.5 124.1,317.1 125.5,316.8 126.9,316.4 128.3,316.1 129.6,315.8 131.0,315.4 132.4,315.1 133.7,314.8 135.1,314.5 136.5,314.2 137.8,313.9 139.2,313.6 140.6,313.3 142.0,313.0 143.3,312.7 144.7,312.4 146.1,312.2 147.4,311.9 148.8,311.6 150.2,311.3 151.6,311.1 152.9,310.8 154.3,310.5 155.7,310.2 157.0,310.0 158.4,309.7 159.8,309.4 161.2,309.1 162.5,308.9 163.9,308.6 165.3,308.3 166.6,308.1 168.0,307.8 169.4,307.5 170.8,307.3 172.1,307.0 173.5,306.8 174.9,306.6 176.2,306.4 177.6,306.1 179.0,305.9 180.4,305.7 181.7,305.6 183.1,305.4 184.5,305.2 185.8,305.1 187.2,304.9 188.6,304.8 190.0,304.7 191.3,304.6 192.7,304.5 194.1,304.4 195.4,304.3 196.8,304.2 198.2,304.2 199.6,304.1 200.9,304.0 202.3,303.9 203.7,303.9 205.0,303.8 206.4,303.7 207.8,303.7 209.1,303.6 210.5,303.5 211.9,303.5 213.3,303.4 214.6,303.3 216.0,303.3 217.4,303.2 218.7,303.2 220.1,303.1 221.5,303.1 222.9,303.0 224.2,303.0 225.6,302.9 227.0,302.9 228.3,302.8 229.7,302.8 231.1,302.7 232.5,302.7 233.8,302.7 235.2,302.6 236.6,302.6 237.9,302.6 239.3,302.5 240.7,302.5 242.1,302.5 243.4,302.5 244.8,302.4 246.2,302.4 247.5,302.4 248.9,302.4 250.3,302.4 251.7,302.4 253.0,302.3 254.4,302.3 255.8,302.3" stroke="#EDB120"/>
<polyline class="l" points="40.5,345.9 41.9,345.6 43.2,345.3 44.6,345.0 46.0,344.6 47.4,344.3 48.7,343.9 50.1,343.4 51.5,342.9 52.8,342.4 54.2,341.9 55.6,341.3 57.0,340.6 58.3,339.9 59.7,339.2 61.1,338.3 62.4,337.4 63.8,336.5 65.2,335.6 66.6,334.7 67.9,333.8 69.3,333.0 70.7,332.2 72.0,331.5 73.4,330.9 74.8,330.3 76.1,329.8 77.5,329.3 78.9,328.9 80.3,328.5 81.6,328.1 83.0,327.8 84.4,327.5 85.7,327.2 87.1,326.9 88.5,326.6 89.9,326.4 91.2,326.2 92.6,326.0 94.0,325.8 95.3,325.6 96.7,325.4 98.1,325.2 99.5,324.9 100.8,324.7 102.2,324.4 103.6,324.1 104.9,323.8 106.3,323.5 107.7,323.1 109.1,322.7 110.4,322.3 111.8,321.9 113.2,321.5 114.5,321.1 115.9,320.7 117.3,320.3 118.7,319.9 120.0,319.5 121.4,319.1 122.8,318.7 124.1,318.4 125.5,318.0 126.9,317.7 128.3,317.4 129.6,317.1 131.0,316.8 132.4,316.5 133.7,316.2 135.1,315.9 136.5,315.6 137.8,315.3 139.2,315.1 140.6,314.8 142.0,314.5 143.3,314.2 144.7,314.0 146.1,313.7 147.4,313.4 148.8,313.1 150.2,312.9 151.6,312.6 152.9,312.3 154.3,312.0 155.7,311.7 157.0,311.4 158.4,311.1 159.8,310.9 161.2,310.6 162.5,310.3 163.9,310.0 165.3,309.7 166.6,309.4 168.0,309.1 169.4,308.9 170.8,308.6 172.1,308.3 173.5,308.1 174.9,307.8 176.2,307.6 177.6,307.3 179.0,307.1 180.4,306.9 181.7,306.7 183.1,306.5 184.5,306.4 185.8,306.2 187.2,306.1 188.6,305.9 190.0,305.8 191.3,305.7 192.7,305.6 194.1,305.6 195.4,305.5 196.8,305.4 198.2,305.4 199.6,305.3 200.9,305.2 202.3,305.2 203.7,305.1 205.0,305.1 206.4,305.0 207.8,304.9 209.1,304.9 210.5,304.8 211.9,304.8 213.3,304.7 214.6,304.7 216.0,304.6 217.4,304.6 218.7,304.5 220.1,304.5 221.5,304.5 222.9,304.4 224.2,304.4 225.6,304.3 227.0,304.3 228.3,304.3 229.7,304.2 231.1,304.2 232.5,304.2 233.8,304.1 235.2,304.1 236.6,304.1 237.9,304.1 239.3,304.0 240.7,304.0 242.1,304.0 243.4,304.0 244.8,304.0 246.2,303.9 247.5,303.9 248.9,303.9 250.3,303.9 251.7,303.9 253.0,303.9 254.4,303.9 255.8,303.9" stroke="#0072BD"/>
<polyline class="l" points="40.5,347.8 41.9,347.4 43.2,347.1 44.6,346.7 46.0,346.2 47.4,345.8 48.7,345.3 50.1,344.9 51.5,344.4 52.8,343.8 54.2,343.3 55.6,342.7 57.0,342.1 58.3,341.4 59.7,340.7 61.1,340.0 62.4,339.3 63.8,338.5 65.2,337.7 66.6,336.9 67.9,336.2 69.3,335.4 70.7,334.7 72.0,334.1 73.4,333.5 74.8,332.9 76.1,332.4 77.5,331.9 78.9,331.4 80.3,331.0 81.6,330.5 83.0,330.1 84.4,329.8 85.7,329.4 87.1,329.1 88.5,328.8 89.9,328.6 91.2,328.3 92.6,328.1 94.0,327.8 95.3,327.6 96.7,327.4 98.1,327.2 99.5,326.9 100.8,326.6 102.2,326.3 103.6,326.0 104.9,325.7 106.3,325.3 107.7,325.0 109.1,324.6 110.4,324.2 111.8,323.8 113.2,323.4 114.5,323.0 115.9,322.6 117.3,322.2 118.7,321.8 120.0,321.4 121.4,321.0 122.8,320.7 124.1,320.3 125.5,320.0 126.9,319.6 128.3,319.3 129.6,319.0 131.0,318.7 132.4,318.4 133.7,318.1 135.1,317.8 136.5,317.5 137.8,317.3 139.2,317.0 140.6,316.7 142.0,316.4 143.3,316.2 144.7,315.9 146.1,315.6 147.4,315.4 148.8,315.1 150.2,314.8 151.6,314.6 152.9,314.3 154.3,314.0 155.7,313.8 157.0,313.5 158.4,313.2 159.8,312.9 161.2,312.7 162.5,312.4 163.9,312.1 165.3,311.9 166.6,311.6 168.0,311.4 169.4,311.1 170.8,310.9 172.1,310.6 173.5,310.4 174.9,310.2 176.2,309.9 177.6,309.7 179.0,309.5 180.4,309.3 181.7,309.1 183.1,308.9 184.5,308.7 185.8,308.5 187.2,308.3 188.6,308.2 190.0,308.0 191.3,307.9 192.7,307.8 194.1,307.6 195.4,307.5 196.8,307.4 198.2,307.2 199.6,307.1 200.9,307.0 202.3,306.9 203.7,306.7 205.0,306.6 206.4,306.5 207.8,306.4 209.1,306.3 210.5,306.2 211.9,306.1 213.3,305.9 214.6,305.8 216.0,305.7 217.4,305.6 218.7,305.5 220.1,305.4 221.5,305.3 222.9,305.2 224.2,305.1 225.6,305.0 227.0,304.9 228.3,304.9 229.7,304.8 231.1,304.7 232.5,304.6 233.8,304.5 235.2,304.5 236.6,304.4 237.9,304.3 239.3,304.3 240.7,304.2 242.1,304.2 243.4,304.1 244.8,304.1 246.2,304.0 247.5,304.0 248.9,304.0 250.3,304.0 251.7,303.9 253.0,303.9 254.4,303.9 255.8,303.9" stroke="#4DBEEE"/>
<polyline class="l" points="40.5,349.2 41.9,348.5 43.2,347.9 44.6,347.2 46.0,346.6 47.4,345.9 48.7,345.2 50.1,344.6 51.5,343.9 52.8,343.2 54.2,342.5 55.6,341.8 57.0,341.0 58.3,340.3 59.7,339.5 61.1,338.7 62.4,337.9 63.8,337.1 65.2,336.3 66.6,335.6 67.9,334.8 69.3,334.1 70.7,333.5 72.0,332.8 73.4,332.2 74.8,331.7 76.1,331.2 77.5,330.7 78.9,330.2 80.3,329.8 81.6,329.4 83.0,329.0 84.4,328.7 85.7,328.3 87.1,328.0 88.5,327.8 89.9,327.5 91.2,327.3 92.6,327.1 94.0,326.8 95.3,326.6 96.7,326.4 98.1,326.2 99.5,325.9 100.8,325.7 102.2,325.4 103.6,325.1 104.9,324.7 106.3,324.4 107.7,324.0 109.1,323.6 110.4,323.2 111.8,322.8 113.2,322.4 114.5,321.9 115.9,321.5 117.3,321.1 118.7,320.7 120.0,320.3 121.4,319.9 122.8,319.5 124.1,319.2 125.5,318.8 126.9,318.5 128.3,318.1 129.6,317.8 131.0,317.5 132.4,317.2 133.7,316.9 135.1,316.6 136.5,316.3 137.8,316.0 139.2,315.7 140.6,315.4 142.0,315.1 143.3,314.8 144.7,314.6 146.1,314.3 147.4,314.0 148.8,313.7 150.2,313.5 151.6,313.2 152.9,312.9 154.3,312.7 155.7,312.4 157.0,312.1 158.4,311.8 159.8,311.6 161.2,311.3 162.5,311.0 163.9,310.8 165.3,310.5 166.6,310.3 168.0,310.0 169.4,309.7 170.8,309.5 172.1,309.3 173.5,309.0 174.9,308.8 176.2,308.6 177.6,308.3 179.0,308.1 180.4,307.9 181.7,307.7 183.1,307.5 184.5,307.3 185.8,307.2 187.2,307.0 188.6,306.8 190.0,306.7 191.3,306.5 192.7,306.4 194.1,306.3 195.4,306.1 196.8,306.0 198.2,305.9 199.6,305.8 200.9,305.6 202.3,305.5 203.7,305.4 205.0,305.3 206.4,305.2 207.8,305.0 209.1,304.9 210.5,304.8 211.9,304.7 213.3,304.6 214.6,304.5 216.0,304.4 217.4,304.3 218.7,304.2 220.1,304.1 221.5,304.0 222.9,303.9 224.2,303.8 225.6,303.7 227.0,303.6 228.3,303.5 229.7,303.4 231.1,303.3 232.5,303.3 233.8,303.2 235.2,303.1 236.6,303.1 237.9,303.0 239.3,302.9 240.7,302.9 242.1,302.8 243.4,302.8 244.8,302.7 246.2,302.7 247.5,302.7 248.9,302.6 250.3,302.6 251.7,302.6 253.0,302.6 254.4,302.5 255.8,302.5" stroke="#0072BD"/>
<polyline class="l" points="40.5,342.0 41.9,341.6 43.2,341.1 44.6,340.6 46.0,340.1 47.4,339.6 48.7,339.1 50.1,338.5 51.5,338.0 52.8,337.4 54.2,336.9 55.6,336.3 57.0,335.7 58.3,335.1 59.7,334.5 61.1,333.9 62.4,333.3 63.8,332.6 65.2,332.0 66.6,331.3 67.9,330.6 69.3,329.9 70.7,329.2 72.0,328.4 73.4,327.7 74.8,326.9 76.1,326.0 77.5,325.2 78.9,324.3 80.3,323.5 81.6,322.6 83.0,321.8 84.4,321.1 85.7,320.4 87.1,319.8 88.5,319.2 89.9,318.6 91.2,318.1 92.6,317.7 94.0,317.2 95.3,316.8 96.7,316.4 98.1,316.0 99.5,315.6 100.8,315.2 102.2,314.8 103.6,314.4 104.9,313.9 106.3,313.5 107.7,313.1 109.1,312.7 110.4,312.3 111.8,311.9 113.2,311.5 114.5,311.1 115.9,310.7 117.3,310.3 118.7,310.0 120.0,309.6 121.4,309.2 122.8,308.9 124.1,308.5 125.5,308.2 126.9,307.9 128.3,307.5 129.6,307.2 131.0,306.9 132.4,306.6 133.7,306.3 135.1,306.0 136.5,305.7 137.8,305.4 139.2,305.1 140.6,304.8 142.0,304.5 143.3,304.2 144.7,303.9 146.1,303.7 147.4,303.4 148.8,303.1 150.2,302.9 151.6,302.6 152.9,302.3 154.3,302.1 155.7,301.8 157.0,301.6 158.4,301.3 159.8,301.0 161.2,300.8 162.5,300.5 163.9,300.3 165.3,300.0 166.6,299.8 168.0,299.5 169.4,299.3 170.8,299.1 172.1,298.8 173.5,298.6 174.9,298.4 176.2,298.1 177.6,297.9 179.0,297.7 180.4,297.5 181.7,297.3 183.1,297.1 184.5,296.9 185.8,296.7 187.2,296.5 188.6,296.3 190.0,296.1 191.3,296.0 192.7,295.8 194.1,295.6 195.4,295.5 196.8,295.3 198.2,295.1 199.6,295.0 200.9,294.8 202.3,294.7 203.7,294.5 205.0,294.3 206.4,294.2 207.8,294.0 209.1,293.9 210.5,293.7 211.9,293.6 213.3,293.4 214.6,293.3 216.0,293.2 217.4,293.0 218.7,292.9 220.1,292.7 221.5,292.6 222.9,292.5 224.2,292.3 225.6,292.2 227.0,292.1 228.3,292.0 229.7,291.8 231.1,291.7 232.5,291.6 233.8,291.5 235.2,291.4 236.6,291.3 237.9,291.2 239.3,291.1 240.7,291.0 242.1,290.9 243.4,290.8 244.8,290.7 246.2,290.6 247.5,290.5 248.9,290.4 250.3,290.3 251.7,290.3 253.0,290.2 254.4,290.1 255.8,290.1" stroke="#EDB120"/>
<polyline class="l" points="40.5,344.9 41.9,344.4 43.2,343.8 44.6,343.2 46.0,342.6 47.4,342.1 48.7,341.5 50.1,340.9 51.5,340.3 52.8,339.6 54.2,339.0 55.6,338.4 57.0,337.8 58.3,337.1 59.7,336.5 61.1,335.9 62.4,335.2 63.8,334.5 65.2,333.9 66.6,333.2 67.9,332.5 69.3,331.8 70.7,331.1 72.0,330.4 73.4,329.7 74.8,328.9 76.1,328.1 77.5,327.4 78.9,326.6 80.3,325.8 81.6,325.1 83.0,324.4 84.4,323.7 85.7,323.1 87.1,322.5 88.5,322.0 89.9,321.6 91.2,321.1 92.6,320.7 94.0,320.3 95.3,319.9 96.7,319.5 98.1,319.2 99.5,318.8 100.8,318.4 102.2,318.1 103.6,317.7 104.9,317.3 106.3,316.9 107.7,316.5 109.1,316.1 110.4,315.7 111.8,315.3 113.2,315.0 114.5,314.6 115.9,314.2 117.3,313.8 118.7,313.5 120.0,313.1 121.4,312.8 122.8,312.4 124.1,312.1 125.5,311.8 126.9,311.5 128.3,311.1 129.6,310.8 131.0,310.5 132.4,310.3 133.7,310.0 135.1,309.7 136.5,309.4 137.8,309.1 139.2,308.8 140.6,308.6 142.0,308.3 143.3,308.0 144.7,307.8 146.1,307.5 147.4,307.3 148.8,307.0 150.2,306.7 151.6,306.5 152.9,306.2 154.3,306.0 155.7,305.7 157.0,305.4 158.4,305.2 159.8,304.9 161.2,304.7 162.5,304.4 163.9,304.2 165.3,303.9 166.6,303.7 168.0,303.4 169.4,303.2 170.8,302.9 172.1,302.7 173.5,302.5 174.9,302.2 176.2,302.0 177.6,301.8 179.0,301.6 180.4,301.3 181.7,301.1 183.1,300.9 184.5,300.7 185.8,300.5 187.2,300.3 188.6,300.2 190.0,300.0 191.3,299.8 192.7,299.6 194.1,299.5 195.4,299.3 196.8,299.2 198.2,299.0 199.6,298.8 200.9,298.7 202.3,298.5 203.7,298.4 205.0,298.2 206.4,298.1 207.8,297.9 209.1,297.8 210.5,297.6 211.9,297.5 213.3,297.4 214.6,297.2 216.0,297.1 217.4,296.9 218.7,296.8 220.1,296.7 221.5,296.5 222.9,296.4 224.2,296.3 225.6,296.2 227.0,296.0 228.3,295.9 229.7,295.8 231.1,295.7 232.5,295.6 233.8,295.5 235.2,295.3 236.6,295.2 237.9,295.1 239.3,295.0 240.7,294.9 242.1,294.9 243.4,294.8 244.8,294.7 246.2,294.6 247.5,294.5 248.9,294.4 250.3,294.4 251.7,294.3 253.0,294.2 254.4,294.2 255.8,294.1" stroke="#A2142F"/>
<polyline class="l" points="40.5,352.2 41.9,351.5 43.2,350.8 44.6,350.0 46.0,349.2 47.4,348.5 48.7,347.6 50.1,346.8 51.5,345.9 52.8,345.0 54.2,344.1 55.6,343.2 57.0,342.2 58.3,341.1 59.7,340.1 61.1,339.0 62.4,337.8 63.8,336.7 65.2,335.5 66.6,334.4 67.9,333.3 69.3,332.2 70.7,331.2 72.0,330.3 73.4,329.5 74.8,328.6 76.1,327.9 77.5,327.2 78.9,326.5 80.3,325.9 81.6,325.3 83.0,324.8 84.4,324.2 85.7,323.8 87.1,323.3 88.5,322.9 89.9,322.5 91.2,322.2 92.6,321.9 94.0,321.5 95.3,321.2 96.7,320.9 98.1,320.6 99.5,320.3 100.8,319.9 102.2,319.6 103.6,319.2 104.9,318.8 106.3,318.5 107.7,318.1 109.1,317.7 110.4,317.3 111.8,316.9 113.2,316.4 114.5,316.0 115.9,315.6 117.3,315.2 118.7,314.8 120.0,314.5 121.4,314.1 122.8,313.7 124.1,313.4 125.5,313.0 126.9,312.7 128.3,312.3 129.6,312.0 131.0,311.7 132.4,311.4 133.7,311.1 135.1,310.8 136.5,310.5 137.8,310.2 139.2,309.9 140.6,309.6 142.0,309.3 143.3,309.0 144.7,308.8 146.1,308.5 147.4,308.2 148.8,308.0 150.2,307.7 151.6,307.4 152.9,307.2 154.3,306.9 155.7,306.6 157.0,306.4 158.4,306.1 159.8,305.9 161.2,305.6 162.5,305.3 163.9,305.1 165.3,304.8 166.6,304.6 168.0,304.3 169.4,304.1 170.8,303.9 172.1,303.6 173.5,303.4 174.9,303.2 176.2,302.9 177.6,302.7 179.0,302.5 180.4,302.3 181.7,302.1 183.1,301.9 184.5,301.7 185.8,301.5 187.2,301.3 188.6,301.1 190.0,300.9 191.3,300.8 192.7,300.6 194.1,300.4 195.4,300.3 196.8,300.1 198.2,300.0 199.6,299.8 200.9,299.7 202.3,299.5 203.7,299.4 205.0,299.2 206.4,299.1 207.8,298.9 209.1,298.8 210.5,298.6 211.9,298.5 213.3,298.4 214.6,298.2 216.0,298.1 217.4,298.0 218.7,297.8 220.1,297.7 221.5,297.6 222.9,297.4 224.2,297.3 225.6,297.2 227.0,297.1 228.3,297.0 229.7,296.8 231.1,296.7 232.5,296.6 233.8,296.5 235.2,296.4 236.6,296.3 237.9,296.2 239.3,296.1 240.7,296.0 242.1,295.9 243.4,295.9 244.8,295.8 246.2,295.7 247.5,295.6 248.9,295.6 250.3,295.5 251.7,295.4 253.0,295.4 254.4,295.3 255.8,295.2" stroke="#4DBEEE"/>
<polyline class="l" points="40.5,347.3 41.9,346.6 43.2,346.0 44.6,345.4 46.0,344.7 47.4,344.1 48.7,343.5 50.1,342.8 51.5,342.2 52.8,341.6 54.2,340.9 55.6,340.3 57.0,339.6 58.3,339.0 59.7,338.3 61.1,337.6 62.4,337.0 63.8,336.3 65.2,335.6 66.6,335.0 67.9,334.3 69.3,333.6 70.7,333.0 72.0,332.3 73.4,331.6 74.8,330.9 76.1,330.3 77.5,329.6 78.9,328.9 80.3,328.2 81.6,327.6 83.0,327.0 84.4,326.4 85.7,325.9 87.1,325.4 88.5,325.0 89.9,324.6 91.2,324.2 92.6,323.9 94.0,323.5 95.3,323.2 96.7,322.9 98.1,322.6 99.5,322.2 100.8,321.9 102.2,321.5 103.6,321.1 104.9,320.8 106.3,320.4 107.7,320.0 109.1,319.6 110.4,319.2 111.8,318.8 113.2,318.4 114.5,317.9 115.9,317.5 117.3,317.1 118.7,316.8 120.0,316.4 121.4,316.0 122.8,315.6 124.1,315.3 125.5,314.9 126.9,314.6 128.3,314.3 129.6,313.9 131.0,313.6 132.4,313.3 133.7,313.0 135.1,312.7 136.5,312.4 137.8,312.1 139.2,311.8 140.6,311.5 142.0,311.3 143.3,311.0 144.7,310.7 146.1,310.4 147.4,310.2 148.8,309.9 150.2,309.6 151.6,309.3 152.9,309.1 154.3,308.8 155.7,308.5 157.0,308.3 158.4,308.0 159.8,307.7 161.2,307.4 162.5,307.2 163.9,306.9 165.3,306.7 166.6,306.4 168.0,306.1 169.4,305.9 170.8,305.6 172.1,305.4 173.5,305.2 174.9,304.9 176.2,304.7 177.6,304.5 179.0,304.3 180.4,304.1 181.7,303.9 183.1,303.7 184.5,303.5 185.8,303.3 187.2,303.1 188.6,303.0 190.0,302.8 191.3,302.7 192.7,302.5 194.1,302.4 195.4,302.3 196.8,302.2 198.2,302.0 199.6,301.9 200.9,301.8 202.3,301.7 203.7,301.5 205.0,301.4 206.4,301.3 207.8,301.2 209.1,301.1 210.5,301.0 211.9,300.8 213.3,300.7 214.6,300.6 216.0,300.5 217.4,300.4 218.7,300.3 220.1,300.2 221.5,300.1 222.9,300.0 224.2,299.9 225.6,299.8 227.0,299.7 228.3,299.7 229.7,299.6 231.1,299.5 232.5,299.4 233.8,299.3 235.2,299.3 236.6,299.2 237.9,299.1 239.3,299.1 240.7,299.0 242.1,299.0 243.4,298.9 244.8,298.9 246.2,298.8 247.5,298.8 248.9,298.8 250.3,298.7 251.7,298.7 253.0,298.7 254.4,298.7 255.8,298.7" stroke="#7E2F8E"/>
<polyline class="l" points="40.5,353.2 41.9,352.8 43.2,352.5 44.6,352.0 46.0,351.6 47.4,351.1 48.7,350.5 50.1,349.9 51.5,349.2 52.8,348.5 54.2,347.7 55.6,346.9 57.0,346.0 58.3,345.0 59.7,343.8 61.1,342.6 62.4,341.3 63.8,340.0 65.2,338.6 66.6,337.3 67.9,336.0 69.3,334.8 70.7,333.7 72.0,332.7 73.4,331.8 74.8,331.0 76.1,330.3 77.5,329.7 78.9,329.1 80.3,328.6 81.6,328.1 83.0,327.7 84.4,327.3 85.7,326.9 87.1,326.6 88.5,326.2 89.9,325.9 91.2,325.7 92.6,325.4 94.0,325.1 95.3,324.9 96.7,324.6 98.1,324.3 99.5,324.1 100.8,323.7 102.2,323.4 103.6,323.1 104.9,322.7 106.3,322.3 107.7,321.9 109.1,321.5 110.4,321.0 111.8,320.6 113.2,320.2 114.5,319.7 115.9,319.3 117.3,318.8 118.7,318.4 120.0,318.0 121.4,317.5 122.8,317.1 124.1,316.7 125.5,316.4 126.9,316.0 128.3,315.6 129.6,315.3 131.0,314.9 132.4,314.6 133.7,314.2 135.1,313.9 136.5,313.5 137.8,313.2 139.2,312.9 140.6,312.6 142.0,312.3 143.3,312.0 144.7,311.7 146.1,311.4 147.4,311.1 148.8,310.8 150.2,310.6 151.6,310.3 152.9,310.0 154.3,309.8 155.7,309.5 157.0,309.2 158.4,309.0 159.8,308.7 161.2,308.4 162.5,308.2 163.9,307.9 165.3,307.7 166.6,307.4 168.0,307.2 169.4,307.0 170.8,306.7 172.1,306.5 173.5,306.3 174.9,306.1 176.2,305.9 177.6,305.6 179.0,305.5 180.4,305.3 181.7,305.1 183.1,304.9 184.5,304.7 185.8,304.6 187.2,304.4 188.6,304.3 190.0,304.1 191.3,304.0 192.7,303.9 194.1,303.8 195.4,303.7 196.8,303.6 198.2,303.4 199.6,303.3 200.9,303.2 202.3,303.1 203.7,303.0 205.0,302.9 206.4,302.8 207.8,302.7 209.1,302.6 210.5,302.5 211.9,302.4 213.3,302.3 214.6,302.2 216.0,302.1 217.4,302.1 218.7,302.0 220.1,301.9 221.5,301.8 222.9,301.7 224.2,301.6 225.6,301.6 227.0,301.5 228.3,301.4 229.7,301.3 231.1,301.3 232.5,301.2 233.8,301.2 235.2,301.1 236.6,301.0 237.9,301.0 239.3,300.9 240.7,300.9 242.1,300.8 243.4,300.8 244.8,300.8 246.2,300.7 247.5,300.7 248.9,300.7 250.3,300.7 251.7,300.6 253.0,300.6 254.4,300.6 255.8,300.6" stroke="#D95319"/>
<rect x="40.5" y="225.4" width="216.50" height="154.25" fill="none" stroke="#4a4a4a" stroke-width="1.3"/>
<line x1="55.58" y1="379.65" x2="55.58" y2="377.04999999999995" stroke="#4a4a4a" stroke-width="1.0"/>
<line x1="55.58" y1="225.4" x2="55.58" y2="228.0" stroke="#4a4a4a" stroke-width="1.0"/>
<line x1="101.29" y1="379.65" x2="101.29" y2="377.04999999999995" stroke="#4a4a4a" stroke-width="1.0"/>
<line x1="101.29" y1="225.4" x2="101.29" y2="228.0" stroke="#4a4a4a" stroke-width="1.0"/>
<line x1="146.99" y1="379.65" x2="146.99" y2="377.04999999999995" stroke="#4a4a4a" stroke-width="1.0"/>
<line x1="146.99" y1="225.4" x2="146.99" y2="228.0" stroke="#4a4a4a" stroke-width="1.0"/>
<line x1="192.69" y1="379.65" x2="192.69" y2="377.04999999999995" stroke="#4a4a4a" stroke-width="1.0"/>
<line x1="192.69" y1="225.4" x2="192.69" y2="228.0" stroke="#4a4a4a" stroke-width="1.0"/>
<line x1="238.40" y1="379.65" x2="238.40" y2="377.04999999999995" stroke="#4a4a4a" stroke-width="1.0"/>
<line x1="238.40" y1="225.4" x2="238.40" y2="228.0" stroke="#4a4a4a" stroke-width="1.0"/>
<line x1="40.5" y1="379.65" x2="43.1" y2="379.65" stroke="#4a4a4a" stroke-width="1.0"/>
<line x1="257.0" y1="379.65" x2="254.4" y2="379.65" stroke="#4a4a4a" stroke-width="1.0"/>
<line x1="40.5" y1="341.09" x2="43.1" y2="341.09" stroke="#4a4a4a" stroke-width="1.0"/>
<line x1="257.0" y1="341.09" x2="254.4" y2="341.09" stroke="#4a4a4a" stroke-width="1.0"/>
<line x1="40.5" y1="302.52" x2="43.1" y2="302.52" stroke="#4a4a4a" stroke-width="1.0"/>
<line x1="257.0" y1="302.52" x2="254.4" y2="302.52" stroke="#4a4a4a" stroke-width="1.0"/>
<line x1="40.5" y1="263.96" x2="43.1" y2="263.96" stroke="#4a4a4a" stroke-width="1.0"/>
<line x1="257.0" y1="263.96" x2="254.4" y2="263.96" stroke="#4a4a4a" stroke-width="1.0"/>
<line x1="40.5" y1="225.40" x2="43.1" y2="225.40" stroke="#4a4a4a" stroke-width="1.0"/>
<line x1="257.0" y1="225.40" x2="254.4" y2="225.40" stroke="#4a4a4a" stroke-width="1.0"/>
<rect x="325.5" y="225.4" width="216.50" height="154.25" fill="none" stroke="#4a4a4a" stroke-width="1.3"/>
<line x1="325.50" y1="379.65" x2="325.50" y2="377.04999999999995" stroke="#4a4a4a" stroke-width="1.0"/>
<line x1="325.50" y1="225.4" x2="325.50" y2="228.0" stroke="#4a4a4a" stroke-width="1.0"/>
<line x1="352.56" y1="379.65" x2="352.56" y2="377.04999999999995" stroke="#4a4a4a" stroke-width="1.0"/>
<line x1="352.56" y1="225.4" x2="352.56" y2="228.0" stroke="#4a4a4a" stroke-width="1.0"/>
<line x1="379.62" y1="379.65" x2="379.62" y2="377.04999999999995" stroke="#4a4a4a" stroke-width="1.0"/>
<line x1="379.62" y1="225.4" x2="379.62" y2="228.0" stroke="#4a4a4a" stroke-width="1.0"/>
<line x1="406.69" y1="379.65" x2="406.69" y2="377.04999999999995" stroke="#4a4a4a" stroke-width="1.0"/>
<line x1="406.69" y1="225.4" x2="406.69" y2="228.0" stroke="#4a4a4a" stroke-width="1.0"/>
<line x1="433.75" y1="379.65" x2="433.75" y2="377.04999999999995" stroke="#4a4a4a" stroke-width="1.0"/>
<line x1="433.75" y1="225.4" x2="433.75" y2="228.0" stroke="#4a4a4a" stroke-width="1.0"/>
<line x1="460.81" y1="379.65" x2="460.81" y2="377.04999999999995" stroke="#4a4a4a" stroke-width="1.0"/>
<line x1="460.81" y1="225.4" x2="460.81" y2="228.0" stroke="#4a4a4a" stroke-width="1.0"/>
<line x1="487.88" y1="379.65" x2="487.88" y2="377.04999999999995" stroke="#4a4a4a" stroke-width="1.0"/>
<line x1="487.88" y1="225.4" x2="487.88" y2="228.0" stroke="#4a4a4a" stroke-width="1.0"/>
<line x1="514.94" y1="379.65" x2="514.94" y2="377.04999999999995" stroke="#4a4a4a" stroke-width="1.0"/>
<line x1="514.94" y1="225.4" x2="514.94" y2="228.0" stroke="#4a4a4a" stroke-width="1.0"/>
<line x1="542.00" y1="379.65" x2="542.00" y2="377.04999999999995" stroke="#4a4a4a" stroke-width="1.0"/>
<line x1="542.00" y1="225.4" x2="542.00" y2="228.0" stroke="#4a4a4a" stroke-width="1.0"/>
<line x1="325.5" y1="379.65" x2="328.1" y2="379.65" stroke="#4a4a4a" stroke-width="1.0"/>
<line x1="542.0" y1="379.65" x2="539.4" y2="379.65" stroke="#4a4a4a" stroke-width="1.0"/>
<line x1="325.5" y1="341.09" x2="328.1" y2="341.09" stroke="#4a4a4a" stroke-width="1.0"/>
<line x1="542.0" y1="341.09" x2="539.4" y2="341.09" stroke="#4a4a4a" stroke-width="1.0"/>
<line x1="325.5" y1="302.52" x2="328.1" y2="302.52" stroke="#4a4a4a" stroke-width="1.0"/>
<line x1="542.0" y1="302.52" x2="539.4" y2="302.52" stroke="#4a4a4a" stroke-width="1.0"/>
<line x1="325.5" y1="263.96" x2="328.1" y2="263.96" stroke="#4a4a4a" stroke-width="1.0"/>
<line x1="542.0" y1="263.96" x2="539.4" y2="263.96" stroke="#4a4a4a" stroke-width="1.0"/>
<line x1="325.5" y1="225.40" x2="328.1" y2="225.40" stroke="#4a4a4a" stroke-width="1.0"/>
<line x1="542.0" y1="225.40" x2="539.4" y2="225.40" stroke="#4a4a4a" stroke-width="1.0"/>
<polyline points="325.50,294.81 352.56,283.24 379.62,277.46 406.69,258.18 433.75,275.53 460.81,290.96 487.88,300.60 514.94,314.09 542.00,321.81" fill="none" stroke="#7a7a9a" stroke-width="0.9"/>
<circle cx="325.50" cy="294.81" r="3.25" fill="none" stroke="#3838ae" stroke-width="1.05"/>
<circle cx="352.56" cy="283.24" r="3.25" fill="none" stroke="#3838ae" stroke-width="1.05"/>
<circle cx="379.62" cy="277.46" r="3.25" fill="none" stroke="#3838ae" stroke-width="1.05"/>
<circle cx="406.69" cy="258.18" r="3.25" fill="none" stroke="#3838ae" stroke-width="1.05"/>
<circle cx="433.75" cy="275.53" r="3.25" fill="none" stroke="#3838ae" stroke-width="1.05"/>
<circle cx="460.81" cy="290.96" r="3.25" fill="none" stroke="#3838ae" stroke-width="1.05"/>
<circle cx="487.88" cy="300.60" r="3.25" fill="none" stroke="#3838ae" stroke-width="1.05"/>
<circle cx="514.94" cy="314.09" r="3.25" fill="none" stroke="#3838ae" stroke-width="1.05"/>
<circle cx="542.00" cy="321.81" r="3.25" fill="none" stroke="#3838ae" stroke-width="1.05"/>
</g>
<text x="35.20" y="166.90" text-anchor="end" class="t">0</text>
<text x="35.20" y="128.38" text-anchor="end" class="t">0.2</text>
<text x="35.20" y="89.85" text-anchor="end" class="t">0.4</text>
<text x="35.20" y="51.33" text-anchor="end" class="t">0.6</text>
<text x="35.20" y="12.80" text-anchor="end" class="t">0.8</text>
<text x="55.58" y="179.30" text-anchor="middle" class="t">500</text>
<text x="101.29" y="179.30" text-anchor="middle" class="t">600</text>
<text x="146.99" y="179.30" text-anchor="middle" class="t">700</text>
<text x="192.69" y="179.30" text-anchor="middle" class="t">800</text>
<text x="238.40" y="179.30" text-anchor="middle" class="t">900</text>
<text x="320.20" y="166.90" text-anchor="end" class="t">0</text>
<text x="320.20" y="115.53" text-anchor="end" class="t">0.2</text>
<text x="320.20" y="64.17" text-anchor="end" class="t">0.4</text>
<text x="320.20" y="12.80" text-anchor="end" class="t">0.6</text>
<text x="340.58" y="179.30" text-anchor="middle" class="t">500</text>
<text x="386.29" y="179.30" text-anchor="middle" class="t">600</text>
<text x="431.99" y="179.30" text-anchor="middle" class="t">700</text>
<text x="477.69" y="179.30" text-anchor="middle" class="t">800</text>
<text x="523.40" y="179.30" text-anchor="middle" class="t">900</text>
<text x="35.20" y="382.95" text-anchor="end" class="t">0</text>
<text x="35.20" y="344.39" text-anchor="end" class="t">0.2</text>
<text x="35.20" y="305.82" text-anchor="end" class="t">0.4</text>
<text x="35.20" y="267.26" text-anchor="end" class="t">0.6</text>
<text x="35.20" y="228.70" text-anchor="end" class="t">0.8</text>
<text x="55.58" y="395.35" text-anchor="middle" class="t">500</text>
<text x="101.29" y="395.35" text-anchor="middle" class="t">600</text>
<text x="146.99" y="395.35" text-anchor="middle" class="t">700</text>
<text x="192.69" y="395.35" text-anchor="middle" class="t">800</text>
<text x="238.40" y="395.35" text-anchor="middle" class="t">900</text>
<text x="320.20" y="382.95" text-anchor="end" class="t">0</text>
<text x="320.20" y="344.39" text-anchor="end" class="t">0.2</text>
<text x="320.20" y="305.82" text-anchor="end" class="t">0.4</text>
<text x="320.20" y="267.26" text-anchor="end" class="t">0.6</text>
<text x="320.20" y="228.70" text-anchor="end" class="t">0.8</text>
<text x="325.50" y="395.35" text-anchor="middle" class="t">18</text>
<text x="352.56" y="395.35" text-anchor="middle" class="t">19</text>
<text x="379.62" y="395.35" text-anchor="middle" class="t">20</text>
<text x="406.69" y="395.35" text-anchor="middle" class="t">21</text>
<text x="433.75" y="395.35" text-anchor="middle" class="t">22</text>
<text x="460.81" y="395.35" text-anchor="middle" class="t">23</text>
<text x="487.88" y="395.35" text-anchor="middle" class="t">24</text>
<text x="514.94" y="395.35" text-anchor="middle" class="t">25</text>
<text x="542.00" y="395.35" text-anchor="middle" class="t">26</text>
<text x="148.70" y="196.20" text-anchor="middle" class="xl" textLength="112.0" lengthAdjust="spacingAndGlyphs">(a) Wavelength(nm)</text>
<text x="433.25" y="196.20" text-anchor="middle" class="xl" textLength="109.9" lengthAdjust="spacingAndGlyphs">(b) Wavelength(nm)</text>
<text x="148.25" y="412.25" text-anchor="middle" class="xl" textLength="109.9" lengthAdjust="spacingAndGlyphs">(c) Wavelength(nm)</text>
<text x="433.35" y="412.25" text-anchor="middle" class="xl" textLength="213.7" lengthAdjust="spacingAndGlyphs">(d) The number of the transfer samples</text>
<text transform="translate(12.60,86.30) rotate(-90)" x="0" y="0" text-anchor="middle" class="xl yl" textLength="61.8" lengthAdjust="spacingAndGlyphs">Reflectance</text>
<text transform="translate(297.60,86.45) rotate(-90)" x="0" y="0" text-anchor="middle" class="xl yl" textLength="61.9" lengthAdjust="spacingAndGlyphs">Reflectance</text>
<text transform="translate(12.60,302.07) rotate(-90)" x="0" y="0" text-anchor="middle" class="xl yl" textLength="61.6" lengthAdjust="spacingAndGlyphs">Reflectance</text>
<text transform="translate(297.4,309.6) rotate(-90)" x="0" y="0" text-anchor="start" class="xl" style="font-size:12.8px">R<tspan dy="-5.6" font-size="10">2</tspan></text>
</svg>
</body></html>
